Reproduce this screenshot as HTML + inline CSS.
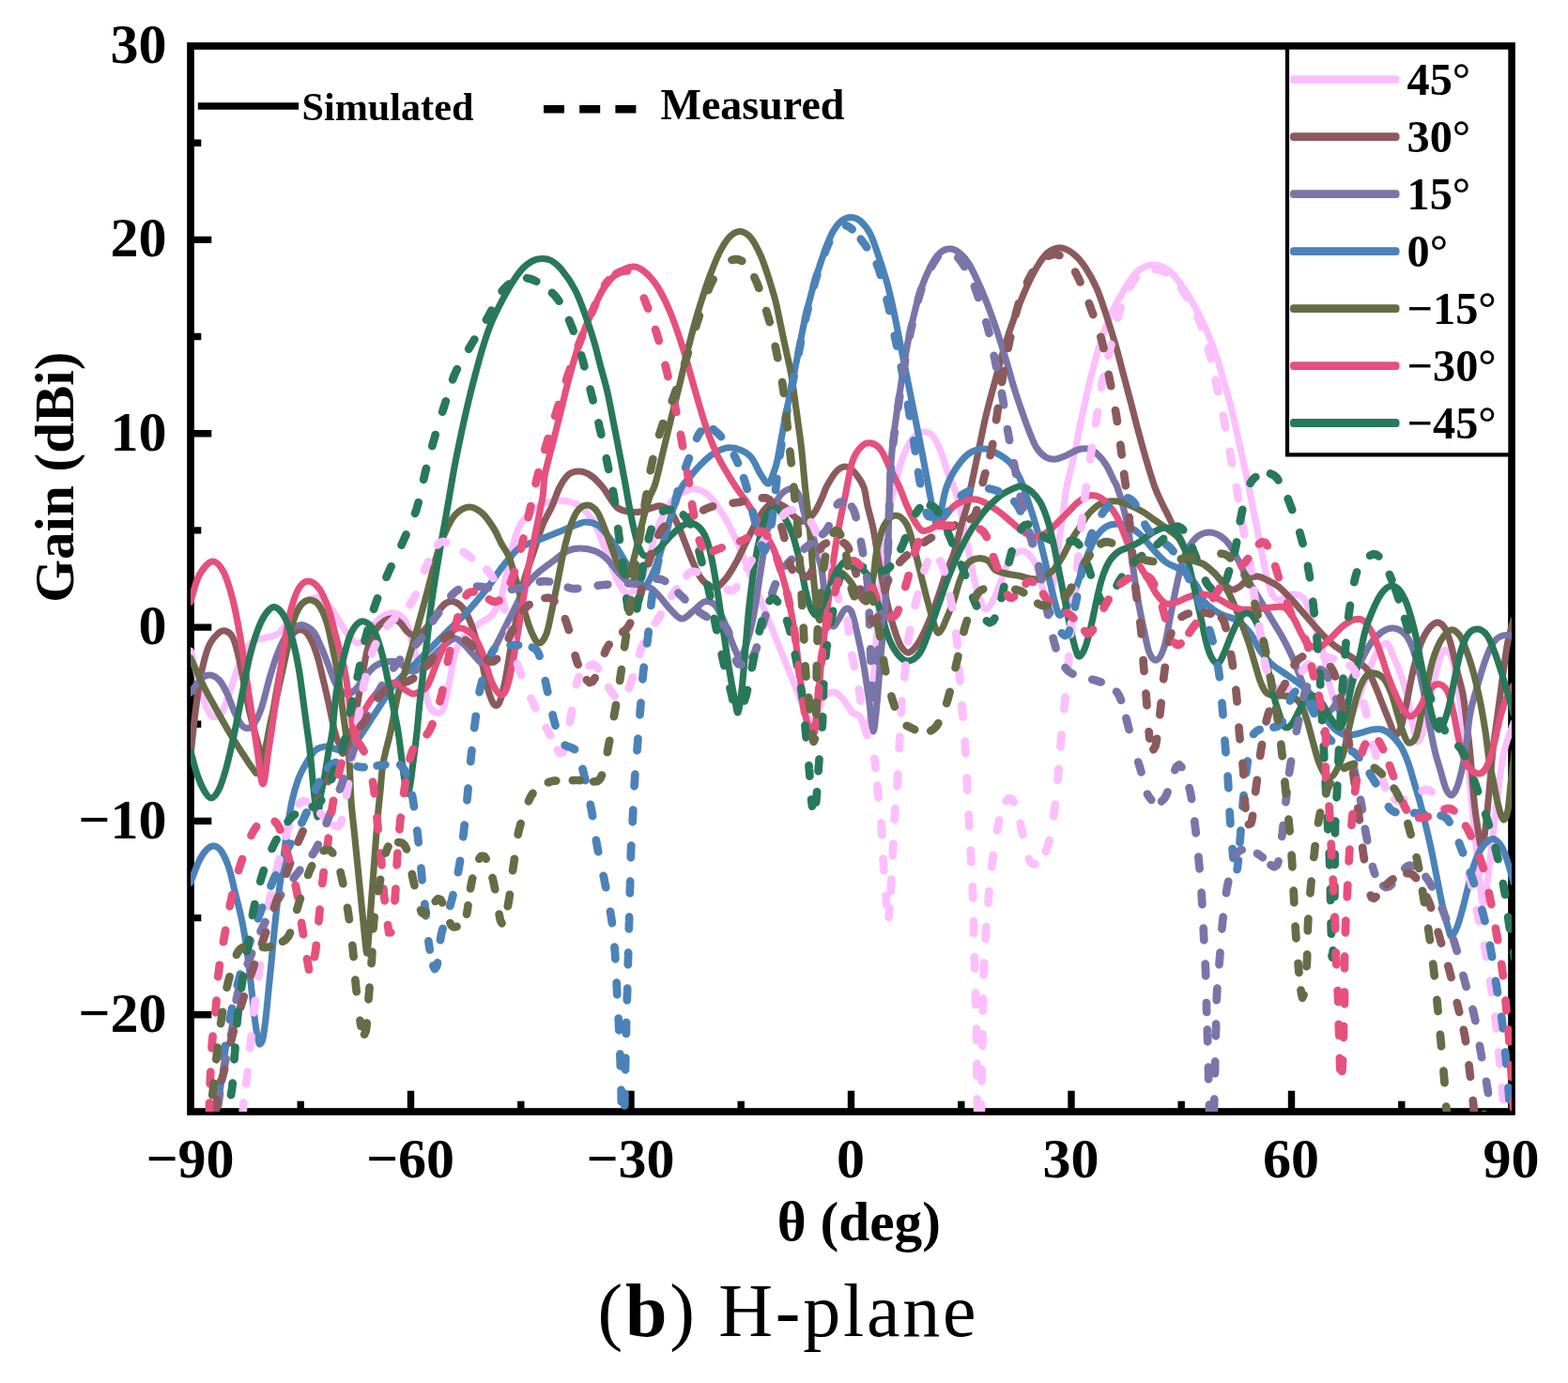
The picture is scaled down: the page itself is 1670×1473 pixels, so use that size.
<!DOCTYPE html>
<html lang="en"><head><meta charset="utf-8"><title>(b) H-plane</title>
<style>
html,body{margin:0;padding:0;background:#fff;}
body{width:1670px;height:1473px;overflow:hidden;}
svg{display:block;}
text{font-family:"Liberation Serif","Times New Roman",Times,serif;fill:#000;}
.b{font-weight:bold;}
.sim{fill:none;stroke-width:7.1;stroke-linecap:round;stroke-linejoin:round;}
.mea{fill:none;stroke-width:8.7;stroke-linecap:round;stroke-linejoin:round;}
</style></head><body>
<svg xmlns="http://www.w3.org/2000/svg" width="1670" height="1473" viewBox="0 0 1670 1473">
<rect x="0" y="0" width="1670" height="1473" fill="#fff"/>
<defs><clipPath id="pc"><rect x="203.0" y="49.0" width="1407.0" height="1135.0"/></clipPath></defs>
<rect x="203.0" y="49.0" width="1407.0" height="1135.0" fill="none" stroke="#000" stroke-width="7.7"/>
<path d="M206.3 1080.8 h19.0M206.3 977.6 h8.0M206.3 874.5 h19.0M206.3 771.3 h8.0M206.3 668.1 h19.0M206.3 564.9 h8.0M206.3 461.7 h19.0M206.3 358.5 h8.0M206.3 255.4 h19.0M206.3 152.2 h8.0M320.2 1180.7 v-8.0M437.5 1180.7 v-19.0M554.8 1180.7 v-8.0M672.0 1180.7 v-19.0M789.2 1180.7 v-8.0M906.5 1180.7 v-19.0M1023.8 1180.7 v-8.0M1141.0 1180.7 v-19.0M1258.2 1180.7 v-8.0M1375.5 1180.7 v-19.0M1492.8 1180.7 v-8.0" stroke="#000" stroke-width="7.4" fill="none"/>
<g clip-path="url(#pc)">
<path class="sim" stroke="#FCBFFD" d="M203.0 693.0C204.2 697.3 207.5 709.7 210.0 719.0C212.5 728.3 215.3 741.7 218.0 749.0C220.7 756.3 223.0 761.3 226.0 763.0C229.0 764.7 233.0 763.0 236.0 759.0C239.0 755.0 241.3 746.3 244.0 739.0C246.7 731.7 249.3 722.3 252.0 715.0C254.7 707.7 257.0 700.3 260.0 695.0C263.0 689.7 266.0 685.7 270.0 683.0C274.0 680.3 279.7 680.3 284.0 679.0C288.3 677.7 292.3 677.7 296.0 675.0C299.7 672.3 302.7 667.3 306.0 663.0C309.3 658.7 312.3 653.0 316.0 649.0C319.7 645.0 324.0 641.0 328.0 639.0C332.0 637.0 336.0 635.7 340.0 637.0C344.0 638.3 348.3 642.7 352.0 647.0C355.7 651.3 359.0 658.3 362.0 663.0C365.0 667.7 367.0 671.3 370.0 675.0C373.0 678.7 376.7 684.3 380.0 685.0C383.3 685.7 386.7 682.7 390.0 679.0C393.3 675.3 396.7 667.0 400.0 663.0C403.3 659.0 406.7 656.7 410.0 655.0C413.3 653.3 416.7 652.3 420.0 653.0C423.3 653.7 427.3 656.0 430.0 659.0C432.7 662.0 434.3 666.0 436.0 671.0C437.7 676.0 438.0 682.1 440.0 689.0C442.3 697.0 447.3 709.0 450.0 719.0C452.7 729.0 453.7 742.3 456.0 749.0C458.3 755.7 461.3 758.0 464.0 759.0C466.7 760.0 469.7 760.0 472.0 755.0C474.3 750.0 476.0 738.3 478.0 729.0C480.0 719.7 482.0 706.7 484.0 699.0C486.0 691.3 487.3 687.3 490.0 683.0C492.7 678.7 496.3 676.3 500.0 673.0C503.7 669.7 508.0 666.0 512.0 663.0C516.0 660.0 520.3 659.7 524.0 655.0C527.7 650.3 530.7 645.8 534.0 635.0C537.3 624.2 540.7 602.7 544.0 590.0C547.3 577.3 549.0 567.5 554.0 559.0C559.0 550.5 567.3 543.3 574.0 539.0C580.7 534.7 587.3 533.3 594.0 533.0C600.7 532.7 609.0 535.0 614.0 537.0C619.0 539.0 620.7 541.3 624.0 545.0C627.3 548.7 631.0 553.3 634.0 559.0C637.0 564.7 639.3 572.3 642.0 579.0C644.7 585.7 647.3 592.3 650.0 599.0C652.7 605.7 655.3 613.7 658.0 619.0C660.7 624.3 663.0 629.5 666.0 631.0C669.0 632.5 673.0 630.7 676.0 628.0C679.0 625.3 681.7 619.8 684.0 615.0C686.3 610.2 687.7 606.7 690.0 599.0C692.3 591.3 695.3 577.3 698.0 569.0C700.7 560.7 702.7 555.3 706.0 549.0C709.3 542.7 714.0 535.3 718.0 531.0C722.0 526.7 726.0 524.7 730.0 523.0C734.0 521.3 738.0 520.3 742.0 521.0C746.0 521.7 750.3 524.0 754.0 527.0C757.7 530.0 760.7 534.3 764.0 539.0C767.3 543.7 770.7 549.0 774.0 555.0C777.3 561.0 780.7 567.7 784.0 575.0C787.3 582.3 791.0 591.7 794.0 599.0C797.0 606.3 799.3 612.3 802.0 619.0C804.7 625.7 807.3 632.3 810.0 639.0C812.7 645.7 815.3 652.3 818.0 659.0C820.7 665.7 823.3 672.3 826.0 679.0C828.7 685.7 831.3 692.3 834.0 699.0C836.7 705.7 839.3 712.3 842.0 719.0C844.7 725.7 847.3 732.3 850.0 739.0C852.7 745.7 855.0 753.8 858.0 759.0C861.0 764.2 865.0 772.3 868.0 770.0C871.0 767.7 872.7 750.5 876.0 745.0C879.3 739.5 884.3 737.0 888.0 737.0C891.7 737.0 894.7 741.3 898.0 745.0C901.3 748.7 905.0 756.0 908.0 759.0C911.0 762.0 913.7 760.0 916.0 763.0C918.3 766.0 920.2 777.5 922.0 777.0C923.8 776.5 925.3 773.0 927.0 760.0C928.7 747.0 930.2 722.3 932.0 699.0C933.8 675.7 935.7 644.8 938.0 620.0C940.3 595.2 943.0 569.2 946.0 550.0C949.0 530.8 953.0 516.5 956.0 505.0C959.0 493.5 961.0 487.7 964.0 481.0C967.0 474.3 970.7 468.5 974.0 465.0C977.3 461.5 980.7 460.0 984.0 460.0C987.3 460.0 991.0 461.5 994.0 465.0C997.0 468.5 999.3 474.3 1002.0 481.0C1004.7 487.7 1007.7 498.7 1010.0 505.0C1012.3 511.3 1014.0 513.3 1016.0 519.0C1018.0 524.7 1020.0 530.7 1022.0 539.0C1024.0 547.3 1026.0 559.0 1028.0 569.0C1030.0 579.0 1032.3 590.7 1034.0 599.0C1035.7 607.3 1036.3 612.3 1038.0 619.0C1039.7 625.7 1042.0 634.0 1044.0 639.0C1046.0 644.0 1047.7 649.0 1050.0 649.0C1052.3 649.0 1055.3 644.0 1058.0 639.0C1060.7 634.0 1063.3 625.7 1066.0 619.0C1068.7 612.3 1071.3 604.0 1074.0 599.0C1076.7 594.0 1079.3 591.0 1082.0 589.0C1084.7 587.0 1087.3 586.3 1090.0 587.0C1092.7 587.7 1095.7 590.3 1098.0 593.0C1100.3 595.7 1102.0 597.7 1104.0 603.0C1106.0 608.3 1108.0 618.8 1110.0 625.0C1112.0 631.2 1114.0 640.8 1116.0 640.0C1118.0 639.2 1120.0 630.8 1122.0 620.0C1124.0 609.2 1126.3 586.8 1128.0 575.0C1129.7 563.2 1130.7 558.3 1132.0 549.0C1133.3 539.7 1134.0 529.7 1136.0 519.0C1138.0 508.3 1141.3 497.3 1144.0 485.0C1146.7 472.7 1149.0 459.0 1152.0 445.0C1155.0 431.0 1158.7 414.3 1162.0 401.0C1165.3 387.7 1168.3 376.3 1172.0 365.0C1175.7 353.7 1180.0 342.0 1184.0 333.0C1188.0 324.0 1193.0 316.3 1196.0 311.0C1199.0 305.7 1199.0 305.0 1202.0 301.0C1205.0 297.0 1209.3 290.2 1214.0 287.0C1218.7 283.8 1224.7 281.7 1230.0 282.0C1235.3 282.3 1240.7 284.5 1246.0 289.0C1251.3 293.5 1256.7 301.0 1262.0 309.0C1267.3 317.0 1273.0 327.0 1278.0 337.0C1283.0 347.0 1288.0 358.3 1292.0 369.0C1296.0 379.7 1298.7 389.7 1302.0 401.0C1305.3 412.3 1309.0 425.0 1312.0 437.0C1315.0 449.0 1317.3 461.0 1320.0 473.0C1322.7 485.0 1325.3 496.3 1328.0 509.0C1330.7 521.7 1333.7 537.3 1336.0 549.0C1338.3 560.7 1340.0 569.0 1342.0 579.0C1344.0 589.0 1346.0 600.3 1348.0 609.0C1350.0 617.7 1351.7 626.0 1354.0 631.0C1356.3 636.0 1358.3 638.7 1362.0 639.0C1365.7 639.3 1371.7 633.3 1376.0 633.0C1380.3 632.7 1384.7 633.3 1388.0 637.0C1391.3 640.7 1393.3 648.0 1396.0 655.0C1398.7 662.0 1401.7 671.7 1404.0 679.0C1406.3 686.3 1408.0 690.7 1410.0 699.0C1412.0 707.3 1414.0 720.7 1416.0 729.0C1418.0 737.3 1419.7 743.0 1422.0 749.0C1424.3 755.0 1427.0 763.2 1430.0 765.0C1433.0 766.8 1436.3 765.8 1440.0 760.0C1443.7 754.2 1448.0 740.0 1452.0 730.0C1456.0 720.0 1460.0 707.5 1464.0 700.0C1468.0 692.5 1472.7 685.2 1476.0 685.0C1479.3 684.8 1481.3 693.3 1484.0 699.0C1486.7 704.7 1489.7 712.3 1492.0 719.0C1494.3 725.7 1496.0 730.7 1498.0 739.0C1500.0 747.3 1502.0 760.5 1504.0 769.0C1506.0 777.5 1507.7 789.8 1510.0 790.0C1512.3 790.2 1515.3 780.0 1518.0 770.0C1520.7 760.0 1523.0 742.5 1526.0 730.0C1529.0 717.5 1532.7 700.0 1536.0 695.0C1539.3 690.0 1543.0 692.5 1546.0 700.0C1549.0 707.5 1551.3 723.3 1554.0 740.0C1556.7 756.7 1559.7 780.0 1562.0 800.0C1564.3 820.0 1566.0 840.0 1568.0 860.0C1570.0 880.0 1572.2 903.0 1574.0 920.0C1575.8 937.0 1577.3 958.7 1579.0 962.0C1580.7 965.3 1582.2 952.0 1584.0 940.0C1585.8 928.0 1588.0 906.7 1590.0 890.0C1592.0 873.3 1594.0 855.0 1596.0 840.0C1598.0 825.0 1599.3 811.7 1602.0 800.0C1604.7 788.3 1610.3 775.0 1612.0 770.0"/>
<path class="sim" stroke="#8B5A5C" d="M203.0 805.0C203.8 797.3 206.2 773.3 208.0 759.0C209.8 744.7 211.7 730.7 214.0 719.0C216.3 707.3 219.0 696.3 222.0 689.0C225.0 681.7 229.0 677.8 232.0 675.0C235.0 672.2 237.3 671.3 240.0 672.0C242.7 672.7 245.7 674.5 248.0 679.0C250.3 683.5 252.0 690.7 254.0 699.0C256.0 707.3 258.0 719.0 260.0 729.0C262.0 739.0 263.7 749.0 266.0 759.0C268.3 769.0 271.7 781.2 274.0 789.0C276.3 796.8 278.0 806.0 280.0 806.0C282.0 806.0 283.7 800.2 286.0 789.0C288.3 777.8 291.3 754.0 294.0 739.0C296.7 724.0 299.0 709.7 302.0 699.0C305.0 688.3 308.7 679.7 312.0 675.0C315.3 670.3 319.0 670.3 322.0 671.0C325.0 671.7 327.3 674.3 330.0 679.0C332.7 683.7 335.7 691.7 338.0 699.0C340.3 706.3 342.0 714.7 344.0 723.0C346.0 731.3 348.0 740.0 350.0 749.0C352.0 758.0 354.2 769.8 356.0 777.0C357.8 784.2 359.3 788.7 361.0 792.0C362.7 795.3 364.2 798.0 366.0 797.0C367.8 796.0 369.8 792.3 372.0 786.0C374.2 779.7 376.7 770.2 379.0 759.0C381.3 747.8 383.8 730.7 386.0 719.0C388.2 707.3 389.7 697.0 392.0 689.0C394.3 681.0 397.0 675.7 400.0 671.0C403.0 666.3 407.0 663.0 410.0 661.0C413.0 659.0 415.3 658.7 418.0 659.0C420.7 659.3 423.3 660.7 426.0 663.0C428.7 665.3 431.3 670.7 434.0 673.0C436.7 675.3 439.0 677.3 442.0 677.0C445.0 676.7 448.3 674.7 452.0 671.0C455.7 667.3 460.3 659.7 464.0 655.0C467.7 650.3 470.7 645.3 474.0 643.0C477.3 640.7 480.7 640.0 484.0 641.0C487.3 642.0 491.0 645.0 494.0 649.0C497.0 653.0 499.7 659.0 502.0 665.0C504.3 671.0 506.0 677.7 508.0 685.0C510.0 692.3 512.0 700.7 514.0 709.0C516.0 717.3 518.0 728.2 520.0 735.0C522.0 741.8 524.0 747.8 526.0 750.0C528.0 752.2 530.0 752.2 532.0 748.0C534.0 743.8 536.0 734.7 538.0 725.0C540.0 715.3 542.0 701.0 544.0 690.0C546.0 679.0 547.7 670.8 550.0 659.0C552.3 647.2 555.0 630.7 558.0 619.0C561.0 607.3 564.7 599.0 568.0 589.0C571.3 579.0 574.7 567.3 578.0 559.0C581.3 550.7 585.0 545.7 588.0 539.0C591.0 532.3 593.0 524.7 596.0 519.0C599.0 513.3 602.3 507.8 606.0 505.0C609.7 502.2 614.0 501.7 618.0 502.0C622.0 502.3 626.0 504.2 630.0 507.0C634.0 509.8 638.7 515.0 642.0 519.0C645.3 523.0 647.3 527.3 650.0 531.0C652.7 534.7 654.7 538.7 658.0 541.0C661.3 543.3 666.0 544.3 670.0 545.0C674.0 545.7 678.0 545.7 682.0 545.0C686.0 544.3 690.3 542.0 694.0 541.0C697.7 540.0 700.7 538.3 704.0 539.0C707.3 539.7 711.0 541.7 714.0 545.0C717.0 548.3 719.3 553.3 722.0 559.0C724.7 564.7 727.3 572.3 730.0 579.0C732.7 585.7 735.3 593.0 738.0 599.0C740.7 605.0 743.3 611.0 746.0 615.0C748.7 619.0 751.0 621.3 754.0 623.0C757.0 624.7 760.7 626.3 764.0 625.0C767.3 623.7 770.7 619.3 774.0 615.0C777.3 610.7 780.7 605.0 784.0 599.0C787.3 593.0 790.7 585.7 794.0 579.0C797.3 572.3 800.7 565.0 804.0 559.0C807.3 553.0 810.7 547.0 814.0 543.0C817.3 539.0 820.3 535.5 824.0 535.0C827.7 534.5 832.0 537.2 836.0 540.0C840.0 542.8 844.3 549.5 848.0 552.0C851.7 554.5 854.7 556.2 858.0 555.0C861.3 553.8 865.0 549.3 868.0 545.0C871.0 540.7 874.0 533.3 876.0 529.0C878.0 524.7 878.0 522.7 880.0 519.0C882.3 514.7 886.7 506.7 890.0 503.0C893.3 499.3 896.7 497.0 900.0 497.0C903.3 497.0 906.7 499.3 910.0 503.0C913.3 506.7 917.7 513.0 920.0 519.0C922.0 524.1 922.3 531.7 924.0 539.0C925.7 546.3 928.0 553.0 930.0 563.0C932.0 573.0 934.0 588.0 936.0 599.0C938.0 610.0 940.0 619.7 942.0 629.0C944.0 638.3 946.0 647.3 948.0 655.0C950.0 662.7 952.0 669.3 954.0 675.0C956.0 680.7 957.7 685.7 960.0 689.0C962.3 692.3 965.0 695.7 968.0 695.0C971.0 694.3 974.7 690.0 978.0 685.0C981.3 680.0 984.7 672.7 988.0 665.0C991.3 657.3 994.7 648.3 998.0 639.0C1001.3 629.7 1005.0 617.3 1008.0 609.0C1011.0 600.7 1013.3 597.3 1016.0 589.0C1018.7 580.7 1021.7 567.3 1024.0 559.0C1026.3 550.7 1028.3 545.7 1030.0 539.0C1031.7 532.3 1032.0 528.7 1034.0 519.0C1036.0 509.3 1039.3 493.7 1042.0 481.0C1044.7 468.3 1047.0 455.7 1050.0 443.0C1053.0 430.3 1056.7 417.3 1060.0 405.0C1063.3 392.7 1066.7 380.0 1070.0 369.0C1073.3 358.0 1076.3 349.0 1080.0 339.0C1083.7 329.0 1088.0 318.0 1092.0 309.0C1096.0 300.0 1100.0 291.7 1104.0 285.0C1108.0 278.3 1111.7 272.5 1116.0 269.0C1120.3 265.5 1125.3 263.7 1130.0 264.0C1134.7 264.3 1139.7 267.5 1144.0 271.0C1148.3 274.5 1152.0 279.0 1156.0 285.0C1160.0 291.0 1164.3 298.7 1168.0 307.0C1171.7 315.3 1174.7 325.0 1178.0 335.0C1181.3 345.0 1185.0 356.7 1188.0 367.0C1191.0 377.3 1193.3 387.0 1196.0 397.0C1198.7 407.0 1201.3 416.8 1204.0 427.0C1206.7 437.2 1209.3 448.0 1212.0 458.0C1214.7 468.0 1217.0 476.8 1220.0 487.0C1223.0 497.2 1227.0 510.7 1230.0 519.0C1233.0 527.3 1235.3 531.3 1238.0 537.0C1240.7 542.7 1243.0 546.8 1246.0 553.0C1249.0 559.2 1252.3 567.2 1256.0 574.0C1259.7 580.8 1263.7 589.5 1268.0 594.0C1272.3 598.5 1277.7 598.2 1282.0 601.0C1286.3 603.8 1290.3 607.5 1294.0 611.0C1297.7 614.5 1301.0 619.2 1304.0 622.0C1307.0 624.8 1309.3 627.5 1312.0 628.0C1314.7 628.5 1317.0 627.0 1320.0 625.0C1323.0 623.0 1326.7 617.8 1330.0 616.0C1333.3 614.2 1336.7 613.7 1340.0 614.0C1343.3 614.3 1346.3 616.2 1350.0 618.0C1353.7 619.8 1357.7 621.5 1362.0 625.0C1366.3 628.5 1371.3 634.0 1376.0 639.0C1380.7 644.0 1385.3 649.7 1390.0 655.0C1394.7 660.3 1399.3 666.0 1404.0 671.0C1408.7 676.0 1413.3 681.0 1418.0 685.0C1422.7 689.0 1427.7 692.0 1432.0 695.0C1436.3 698.0 1440.0 700.0 1444.0 703.0C1448.0 706.0 1452.7 708.7 1456.0 713.0C1459.3 717.3 1461.3 723.0 1464.0 729.0C1466.7 735.0 1469.3 742.3 1472.0 749.0C1474.7 755.7 1477.7 763.5 1480.0 769.0C1482.3 774.5 1484.0 781.0 1486.0 782.0C1488.0 783.0 1490.0 780.5 1492.0 775.0C1494.0 769.5 1496.0 758.3 1498.0 749.0C1500.0 739.7 1502.0 728.0 1504.0 719.0C1506.0 710.0 1508.0 701.7 1510.0 695.0C1512.0 688.3 1513.7 683.7 1516.0 679.0C1518.3 674.3 1521.3 669.7 1524.0 667.0C1526.7 664.3 1529.3 662.3 1532.0 663.0C1534.7 663.7 1537.7 666.7 1540.0 671.0C1542.3 675.3 1544.0 681.7 1546.0 689.0C1548.0 696.3 1550.0 706.7 1552.0 715.0C1554.0 723.3 1556.3 730.0 1558.0 739.0C1559.7 748.0 1560.7 758.0 1562.0 769.0C1563.3 780.0 1564.7 791.0 1566.0 805.0C1567.3 819.0 1568.7 840.0 1570.0 853.0C1571.3 866.0 1572.7 874.7 1574.0 883.0C1575.3 891.3 1576.7 903.0 1578.0 903.0C1579.3 903.0 1580.7 893.0 1582.0 883.0C1583.3 873.0 1584.7 857.0 1586.0 843.0C1587.3 829.0 1588.7 811.3 1590.0 799.0C1591.3 786.7 1592.7 779.0 1594.0 769.0C1595.3 759.0 1596.7 749.0 1598.0 739.0C1599.3 729.0 1600.7 718.3 1602.0 709.0C1603.3 699.7 1604.3 691.2 1606.0 683.0C1607.7 674.8 1611.0 663.8 1612.0 660.0"/>
<path class="sim" stroke="#7A75A8" d="M203.0 738.0C204.8 735.5 210.5 726.2 214.0 723.0C217.5 719.8 220.7 718.7 224.0 719.0C227.3 719.3 231.0 721.7 234.0 725.0C237.0 728.3 239.3 733.3 242.0 739.0C244.7 744.7 247.3 753.3 250.0 759.0C252.7 764.7 255.3 770.3 258.0 773.0C260.7 775.7 263.3 776.3 266.0 775.0C268.7 773.7 271.7 769.3 274.0 765.0C276.3 760.7 277.7 756.7 280.0 749.0C282.3 741.3 285.3 728.0 288.0 719.0C290.7 710.0 293.0 702.3 296.0 695.0C299.0 687.7 302.7 679.7 306.0 675.0C309.3 670.3 313.0 668.5 316.0 667.0C319.0 665.5 321.0 665.0 324.0 666.0C327.0 667.0 331.0 669.2 334.0 673.0C337.0 676.8 339.3 683.0 342.0 689.0C344.7 695.0 347.3 702.3 350.0 709.0C352.7 715.7 355.0 724.0 358.0 729.0C361.0 734.0 364.7 738.0 368.0 739.0C371.3 740.0 374.3 738.3 378.0 735.0C381.7 731.7 386.3 723.3 390.0 719.0C393.7 714.7 396.5 711.3 400.0 709.0C403.5 706.7 407.3 705.7 411.0 705.0C414.7 704.3 418.7 704.2 422.0 705.0C425.3 705.8 428.0 708.3 431.0 710.0C434.0 711.7 436.5 715.3 440.0 715.0C443.5 714.7 447.8 711.3 452.0 708.0C456.2 704.7 461.0 698.8 465.0 695.0C469.0 691.2 472.7 687.5 476.0 685.0C479.3 682.5 482.0 679.8 485.0 680.0C488.0 680.2 490.8 683.2 494.0 686.0C497.2 688.8 500.8 693.7 504.0 697.0C507.2 700.3 510.2 705.5 513.0 706.0C515.8 706.5 518.2 703.7 521.0 700.0C523.8 696.3 526.7 690.3 530.0 684.0C533.3 677.7 537.3 669.3 541.0 662.0C544.7 654.7 549.3 645.7 552.0 640.0C554.5 634.7 555.0 631.5 557.0 628.0C559.0 624.5 561.2 622.2 564.0 619.0C566.8 615.8 569.7 612.7 574.0 609.0C578.3 605.3 585.0 600.7 590.0 597.0C595.0 593.3 599.3 589.2 604.0 587.0C608.7 584.8 613.0 584.0 618.0 584.0C623.0 584.0 629.3 585.2 634.0 587.0C638.7 588.8 642.0 591.3 646.0 595.0C650.0 598.7 654.0 604.7 658.0 609.0C662.0 613.3 666.0 618.7 670.0 621.0C674.0 623.3 678.0 622.0 682.0 623.0C686.0 624.0 690.3 624.7 694.0 627.0C697.7 629.3 700.7 633.3 704.0 637.0C707.3 640.7 710.3 645.3 714.0 649.0C717.7 652.7 722.0 658.7 726.0 659.0C730.0 659.3 734.0 654.0 738.0 651.0C742.0 648.0 746.3 642.3 750.0 641.0C753.7 639.7 757.0 640.7 760.0 643.0C763.0 645.3 765.7 650.7 768.0 655.0C770.3 659.3 771.7 663.2 774.0 669.0C776.3 674.8 779.7 684.8 782.0 690.0C784.3 695.2 786.0 700.2 788.0 700.0C790.0 699.8 791.7 695.8 794.0 689.0C796.3 682.2 799.3 672.3 802.0 659.0C804.7 645.7 807.7 623.5 810.0 609.0C812.3 594.5 814.0 582.5 816.0 572.0C818.0 561.5 819.7 553.2 822.0 546.0C824.3 538.8 827.0 533.2 830.0 529.0C833.0 524.8 837.0 522.0 840.0 521.0C843.0 520.0 845.8 521.0 848.0 523.0C850.2 525.0 851.3 528.2 853.0 533.0C854.7 537.8 855.8 545.5 858.0 552.0C860.2 558.5 863.8 565.5 866.0 572.0C868.2 578.5 869.5 585.3 871.0 591.0C872.5 596.7 873.8 599.5 875.0 606.0C876.2 612.5 876.8 621.8 878.0 630.0C879.2 638.2 880.5 648.8 882.0 655.0C883.5 661.2 885.2 666.2 887.0 667.0C888.8 667.8 890.8 663.0 893.0 660.0C895.2 657.0 897.7 650.3 900.0 649.0C902.3 647.7 904.7 647.0 907.0 652.0C909.3 657.0 911.8 669.5 914.0 679.0C916.2 688.5 918.0 697.3 920.0 709.0C922.0 720.7 924.3 737.3 926.0 749.0C927.7 760.7 928.7 779.0 930.0 779.0C931.3 779.0 932.7 762.3 934.0 749.0C935.3 735.7 936.7 714.0 938.0 699.0C939.3 684.0 941.0 672.3 942.0 659.0C943.0 645.7 943.3 632.3 944.0 619.0C944.7 605.7 945.4 595.7 946.0 579.0C946.6 562.3 946.8 536.3 947.5 519.0C948.2 501.7 949.1 489.0 950.5 475.0C951.9 461.0 953.9 448.3 955.8 435.0C957.7 421.7 960.0 406.7 961.8 395.0C963.6 383.3 964.9 374.7 966.8 365.0C968.7 355.3 970.7 346.3 973.0 337.0C975.3 327.7 977.6 317.8 980.6 309.0C983.6 300.2 987.6 290.6 991.0 284.0C994.4 277.4 997.6 272.7 1001.0 269.5C1004.4 266.3 1008.1 265.0 1011.6 265.0C1015.1 265.0 1018.9 266.9 1022.2 269.5C1025.5 272.1 1028.4 275.4 1031.6 280.5C1034.8 285.6 1038.1 292.6 1041.5 300.0C1044.9 307.4 1048.6 316.2 1052.0 325.0C1055.4 333.8 1058.7 343.0 1062.0 353.0C1065.3 363.0 1069.0 375.0 1072.0 385.0C1075.0 395.0 1077.3 404.3 1080.0 413.0C1082.7 421.7 1085.3 429.3 1088.0 437.0C1090.7 444.7 1093.3 452.3 1096.0 459.0C1098.7 465.7 1101.0 472.3 1104.0 477.0C1107.0 481.7 1110.7 485.0 1114.0 487.0C1117.3 489.0 1120.3 489.3 1124.0 489.0C1127.7 488.7 1132.0 486.7 1136.0 485.0C1140.0 483.3 1144.3 480.2 1148.0 479.0C1151.7 477.8 1154.7 477.3 1158.0 478.0C1161.3 478.7 1164.7 480.2 1168.0 483.0C1171.3 485.8 1175.0 490.3 1178.0 495.0C1181.0 499.7 1184.0 507.0 1186.0 511.0C1188.0 515.0 1188.3 514.3 1190.0 519.0C1191.7 523.7 1194.0 531.3 1196.0 539.0C1198.0 546.7 1200.3 555.0 1202.0 565.0C1203.7 575.0 1204.3 586.7 1206.0 599.0C1207.7 611.3 1210.0 627.3 1212.0 639.0C1214.0 650.7 1216.0 659.7 1218.0 669.0C1220.0 678.3 1221.7 689.3 1224.0 695.0C1226.3 700.7 1229.3 704.0 1232.0 703.0C1234.7 702.0 1237.7 696.3 1240.0 689.0C1242.3 681.7 1244.0 669.0 1246.0 659.0C1248.0 649.0 1250.0 638.3 1252.0 629.0C1254.0 619.7 1255.7 610.7 1258.0 603.0C1260.3 595.3 1263.0 588.3 1266.0 583.0C1269.0 577.7 1272.3 573.7 1276.0 571.0C1279.7 568.3 1284.0 567.0 1288.0 567.0C1292.0 567.0 1296.3 568.7 1300.0 571.0C1303.7 573.3 1306.7 576.3 1310.0 581.0C1313.3 585.7 1316.7 592.7 1320.0 599.0C1323.3 605.3 1326.3 612.3 1330.0 619.0C1333.7 625.7 1338.0 632.3 1342.0 639.0C1346.0 645.7 1350.0 652.3 1354.0 659.0C1358.0 665.7 1362.3 672.3 1366.0 679.0C1369.7 685.7 1373.0 692.3 1376.0 699.0C1379.0 705.7 1381.3 712.3 1384.0 719.0C1386.7 725.7 1389.0 733.0 1392.0 739.0C1395.0 745.0 1398.3 751.7 1402.0 755.0C1405.7 758.3 1410.3 760.2 1414.0 759.0C1417.7 757.8 1420.3 753.0 1424.0 748.0C1427.7 743.0 1432.0 735.8 1436.0 729.0C1440.0 722.2 1444.0 714.3 1448.0 707.0C1452.0 699.7 1456.0 690.7 1460.0 685.0C1464.0 679.3 1468.0 675.7 1472.0 673.0C1476.0 670.3 1480.0 668.7 1484.0 669.0C1488.0 669.3 1492.7 671.7 1496.0 675.0C1499.3 678.3 1501.7 683.3 1504.0 689.0C1506.3 694.7 1508.0 701.3 1510.0 709.0C1512.0 716.7 1514.0 725.0 1516.0 735.0C1518.0 745.0 1520.0 758.3 1522.0 769.0C1524.0 779.7 1526.0 790.5 1528.0 799.0C1530.0 807.5 1532.0 813.2 1534.0 820.0C1536.0 826.8 1538.0 835.5 1540.0 840.0C1542.0 844.5 1544.0 847.3 1546.0 847.0C1548.0 846.7 1550.0 843.3 1552.0 838.0C1554.0 832.7 1556.3 823.0 1558.0 815.0C1559.7 807.0 1560.7 799.3 1562.0 790.0C1563.3 780.7 1564.0 769.2 1566.0 759.0C1568.0 748.8 1571.3 738.3 1574.0 729.0C1576.7 719.7 1579.3 710.3 1582.0 703.0C1584.7 695.7 1587.0 689.3 1590.0 685.0C1593.0 680.7 1596.3 678.3 1600.0 677.0C1603.7 675.7 1610.0 677.0 1612.0 677.0"/>
<path class="sim" stroke="#4B82B8" d="M203.0 940.0C204.5 936.2 209.2 922.8 212.0 917.0C214.8 911.2 217.3 907.7 220.0 905.0C222.7 902.3 225.3 900.7 228.0 901.0C230.7 901.3 233.3 903.0 236.0 907.0C238.7 911.0 241.7 918.0 244.0 925.0C246.3 932.0 248.0 941.0 250.0 949.0C252.0 957.0 254.3 965.7 256.0 973.0C257.7 980.3 258.7 985.2 260.0 993.0C261.3 1000.8 262.7 1009.7 264.0 1020.0C265.3 1030.3 266.7 1043.3 268.0 1055.0C269.3 1066.7 270.8 1081.2 272.0 1090.0C273.2 1098.8 274.2 1104.3 275.0 1108.0C275.8 1111.7 276.2 1112.3 277.0 1112.0C277.8 1111.7 279.0 1110.5 280.0 1106.0C281.0 1101.5 282.0 1093.5 283.0 1085.0C284.0 1076.5 285.0 1065.0 286.0 1055.0C287.0 1045.0 288.0 1035.3 289.0 1025.0C290.0 1014.7 291.0 1003.0 292.0 993.0C293.0 983.0 294.0 973.3 295.0 965.0C296.0 956.7 296.8 951.7 298.0 943.0C299.2 934.3 300.7 923.0 302.0 913.0C303.3 903.0 304.5 893.0 306.0 883.0C307.5 873.0 309.0 862.0 311.0 853.0C313.0 844.0 315.5 835.7 318.0 829.0C320.5 822.3 323.0 818.0 326.0 813.0C329.0 808.0 332.3 802.0 336.0 799.0C339.7 796.0 344.3 795.2 348.0 795.0C351.7 794.8 354.7 797.2 358.0 798.0C361.3 798.8 364.3 801.5 368.0 800.0C371.7 798.5 374.7 795.8 380.0 789.0C385.3 782.2 393.3 769.0 400.0 759.0C406.7 749.0 413.3 737.3 420.0 729.0C426.7 720.7 433.3 715.7 440.0 709.0C446.7 702.3 453.3 695.7 460.0 689.0C466.7 682.3 473.3 675.7 480.0 669.0C486.7 662.3 493.3 656.3 500.0 649.0C506.7 641.7 514.3 632.3 520.0 625.0C525.7 617.7 530.0 610.3 534.0 605.0C538.0 599.7 540.7 596.7 544.0 593.0C547.3 589.3 549.0 586.0 554.0 583.0C559.0 580.0 567.3 577.7 574.0 575.0C580.7 572.3 587.3 569.7 594.0 567.0C600.7 564.3 609.0 560.8 614.0 559.0C619.0 557.2 620.3 556.0 624.0 556.0C627.7 556.0 632.3 556.8 636.0 559.0C639.7 561.2 642.3 564.7 646.0 569.0C649.7 573.3 654.0 579.0 658.0 585.0C662.0 591.0 666.3 599.3 670.0 605.0C673.7 610.7 677.0 616.0 680.0 619.0C683.0 622.0 685.3 624.7 688.0 623.0C690.7 621.3 693.7 614.0 696.0 609.0C698.3 604.0 699.7 600.3 702.0 593.0C704.3 585.7 707.3 574.0 710.0 565.0C712.7 556.0 715.3 546.7 718.0 539.0C720.7 531.3 723.3 524.0 726.0 519.0C728.7 514.0 730.7 513.0 734.0 509.0C737.3 505.0 741.7 499.3 746.0 495.0C750.3 490.7 755.3 486.0 760.0 483.0C764.7 480.0 769.3 477.7 774.0 477.0C778.7 476.3 783.7 477.3 788.0 479.0C792.3 480.7 796.3 482.7 800.0 487.0C803.7 491.3 807.0 500.3 810.0 505.0C813.0 509.7 815.8 514.8 818.0 515.0C820.2 515.2 821.3 510.3 823.0 506.0C824.7 501.7 826.1 498.8 828.1 489.4C830.1 480.0 832.9 462.4 835.3 449.8C837.7 437.2 840.1 425.8 842.5 413.8C844.9 401.8 847.3 389.9 849.7 377.9C852.1 365.9 854.2 353.9 856.9 341.9C859.6 329.9 862.9 316.7 865.9 305.9C868.9 295.1 871.6 286.6 874.9 277.2C878.2 267.8 882.2 256.4 885.7 249.4C889.2 242.5 892.5 238.5 896.0 235.5C899.5 232.5 903.0 231.5 906.4 231.5C909.8 231.5 913.1 232.5 916.5 235.5C919.9 238.5 923.8 243.1 927.0 249.4C930.2 255.8 933.0 264.8 936.0 273.6C939.0 282.4 942.3 292.4 945.0 302.3C947.7 312.2 949.8 321.8 952.2 332.9C954.6 344.0 957.3 358.4 959.4 368.9C961.5 379.4 963.0 386.9 964.8 395.9C966.6 404.9 968.4 413.8 970.2 422.8C972.0 431.8 973.5 439.1 975.6 449.8C977.7 460.5 980.8 475.5 983.0 487.0C985.2 498.5 987.2 509.3 989.0 519.0C990.8 528.7 992.5 538.2 994.0 545.0C995.5 551.8 996.7 560.0 998.0 560.0C999.3 560.0 1000.3 551.8 1002.0 545.0C1003.7 538.2 1005.3 526.7 1008.0 519.0C1010.7 511.3 1014.0 505.0 1018.0 499.0C1022.0 493.0 1027.0 486.5 1032.0 483.0C1037.0 479.5 1043.0 478.0 1048.0 478.0C1053.0 478.0 1057.3 480.5 1062.0 483.0C1066.7 485.5 1072.0 488.7 1076.0 493.0C1080.0 497.3 1083.3 503.7 1086.0 509.0C1088.7 514.3 1089.7 518.3 1092.0 525.0C1094.3 531.7 1097.7 541.7 1100.0 549.0C1102.3 556.3 1104.0 561.7 1106.0 569.0C1108.0 576.3 1110.0 584.7 1112.0 593.0C1114.0 601.3 1116.0 610.7 1118.0 619.0C1120.0 627.3 1122.3 637.0 1124.0 643.0C1125.7 649.0 1126.3 653.8 1128.0 655.0C1129.7 656.2 1131.3 654.0 1134.0 650.0C1136.7 646.0 1141.0 637.8 1144.0 631.0C1147.0 624.2 1149.3 616.3 1152.0 609.0C1154.7 601.7 1157.3 593.3 1160.0 587.0C1162.7 580.7 1165.0 575.3 1168.0 571.0C1171.0 566.7 1174.3 563.2 1178.0 561.0C1181.7 558.8 1186.0 558.0 1190.0 558.0C1194.0 558.0 1198.0 559.2 1202.0 561.0C1206.0 562.8 1209.7 565.0 1214.0 569.0C1218.3 573.0 1223.3 580.0 1228.0 585.0C1232.7 590.0 1237.0 595.3 1242.0 599.0C1247.0 602.7 1252.7 603.0 1258.0 607.0C1263.3 611.0 1270.0 617.5 1274.0 623.0C1278.0 628.5 1279.0 635.7 1282.0 640.0C1285.0 644.3 1288.7 646.5 1292.0 649.0C1295.3 651.5 1297.7 653.0 1302.0 655.0C1306.3 657.0 1313.0 657.7 1318.0 661.0C1323.0 664.3 1328.0 669.7 1332.0 675.0C1336.0 680.3 1338.3 687.7 1342.0 693.0C1345.7 698.3 1349.7 703.0 1354.0 707.0C1358.3 711.0 1363.3 713.7 1368.0 717.0C1372.7 720.3 1377.7 723.7 1382.0 727.0C1386.3 730.3 1390.3 733.0 1394.0 737.0C1397.7 741.0 1401.0 746.3 1404.0 751.0C1407.0 755.7 1409.0 760.7 1412.0 765.0C1415.0 769.3 1418.3 774.0 1422.0 777.0C1425.7 780.0 1429.7 782.3 1434.0 783.0C1438.3 783.7 1443.3 782.0 1448.0 781.0C1452.7 780.0 1458.0 777.7 1462.0 777.0C1466.0 776.3 1468.7 776.0 1472.0 777.0C1475.3 778.0 1478.7 780.0 1482.0 783.0C1485.3 786.0 1489.0 790.0 1492.0 795.0C1495.0 800.0 1497.7 806.7 1500.0 813.0C1502.3 819.3 1504.0 826.3 1506.0 833.0C1508.0 839.7 1510.0 845.7 1512.0 853.0C1514.0 860.3 1516.0 868.7 1518.0 877.0C1520.0 885.3 1522.0 893.7 1524.0 903.0C1526.0 912.3 1528.0 923.0 1530.0 933.0C1532.0 943.0 1534.0 954.0 1536.0 963.0C1538.0 972.0 1540.3 981.3 1542.0 987.0C1543.7 992.7 1544.3 997.0 1546.0 997.0C1547.7 997.0 1550.0 992.0 1552.0 987.0C1554.0 982.0 1556.0 974.3 1558.0 967.0C1560.0 959.7 1562.0 950.7 1564.0 943.0C1566.0 935.3 1567.7 927.7 1570.0 921.0C1572.3 914.3 1575.3 907.3 1578.0 903.0C1580.7 898.7 1583.7 896.5 1586.0 895.0C1588.3 893.5 1589.7 892.7 1592.0 894.0C1594.3 895.3 1597.7 898.8 1600.0 903.0C1602.3 907.2 1604.0 912.8 1606.0 919.0C1608.0 925.2 1611.0 936.5 1612.0 940.0"/>
<path class="sim" stroke="#666C46" d="M203.0 701.0C205.2 705.7 211.5 720.0 216.0 729.0C220.5 738.0 225.0 746.0 230.0 755.0C235.0 764.0 241.0 774.7 246.0 783.0C251.0 791.3 256.3 799.3 260.0 805.0C263.7 810.7 265.5 814.0 268.0 817.0C270.5 820.0 272.7 825.8 275.0 823.0C277.3 820.2 279.8 808.8 282.0 800.0C284.2 791.2 286.0 779.2 288.0 770.0C290.0 760.8 291.3 756.7 294.0 745.0C296.7 733.3 301.0 713.7 304.0 700.0C307.0 686.3 309.3 672.2 312.0 663.0C314.7 653.8 317.0 649.0 320.0 645.0C323.0 641.0 326.7 639.0 330.0 639.0C333.3 639.0 337.0 641.0 340.0 645.0C343.0 649.0 345.7 655.7 348.0 663.0C350.3 670.3 352.0 679.7 354.0 689.0C356.0 698.3 358.3 709.0 360.0 719.0C361.7 729.0 362.7 739.0 364.0 749.0C365.3 759.0 366.7 768.8 368.0 779.0C369.3 789.2 371.0 797.7 372.0 810.0C373.0 822.3 373.0 839.2 374.0 853.0C375.0 866.8 376.7 879.7 378.0 893.0C379.3 906.3 380.7 919.7 382.0 933.0C383.3 946.3 384.8 961.3 386.0 973.0C387.2 984.7 388.2 996.0 389.0 1003.0C389.8 1010.0 390.3 1016.7 391.0 1015.0C391.7 1013.3 392.2 1003.3 393.0 993.0C393.8 982.7 395.0 966.3 396.0 953.0C397.0 939.7 398.0 926.3 399.0 913.0C400.0 899.7 401.0 884.7 402.0 873.0C403.0 861.3 404.0 853.0 405.0 843.0C406.0 833.0 406.5 821.7 408.0 813.0C409.8 802.3 413.3 791.3 416.0 779.0C418.7 766.7 421.7 749.0 424.0 739.0C426.3 729.0 427.3 728.0 430.0 719.0C432.7 710.0 436.7 696.7 440.0 685.0C443.3 673.3 447.0 660.0 450.0 649.0C453.0 638.0 455.3 629.0 458.0 619.0C460.7 609.0 463.0 598.3 466.0 589.0C469.0 579.7 472.7 570.0 476.0 563.0C479.3 556.0 482.0 550.8 486.0 547.0C490.0 543.2 495.3 540.0 500.0 540.0C504.7 540.0 509.7 543.2 514.0 547.0C518.3 550.8 522.7 557.7 526.0 563.0C529.3 568.3 531.3 574.0 534.0 579.0C536.7 584.0 539.3 586.3 542.0 593.0C544.7 599.7 547.3 609.7 550.0 619.0C552.7 628.3 555.3 640.0 558.0 649.0C560.7 658.0 563.3 667.0 566.0 673.0C568.7 679.0 571.3 684.7 574.0 685.0C576.7 685.3 579.7 681.0 582.0 675.0C584.3 669.0 586.0 658.3 588.0 649.0C590.0 639.7 592.0 629.0 594.0 619.0C596.0 609.0 597.7 599.0 600.0 589.0C602.3 579.0 605.3 566.7 608.0 559.0C610.7 551.3 613.0 546.5 616.0 543.0C619.0 539.5 622.7 537.7 626.0 538.0C629.3 538.3 633.0 540.8 636.0 545.0C639.0 549.2 641.3 556.3 644.0 563.0C646.7 569.7 649.3 578.0 652.0 585.0C654.7 592.0 657.3 600.3 660.0 605.0C662.7 609.7 665.7 614.0 668.0 613.0C670.3 612.0 672.0 605.3 674.0 599.0C676.0 592.7 678.0 583.3 680.0 575.0C682.0 566.7 684.0 556.7 686.0 549.0C688.0 541.3 690.0 534.7 692.0 529.0C694.0 523.3 695.6 523.2 698.0 515.0C700.4 506.8 703.6 491.8 706.5 480.0C709.4 468.2 712.2 456.0 715.2 444.0C718.2 432.0 721.5 419.1 724.2 408.0C726.9 396.9 728.8 388.0 731.4 377.3C734.0 366.6 737.4 353.6 740.0 344.0C742.6 334.4 744.5 328.4 747.2 320.0C749.9 311.6 752.9 302.1 756.2 293.3C759.5 284.6 763.4 274.5 767.0 267.5C770.6 260.5 774.2 255.0 777.8 251.5C781.4 248.0 785.0 246.2 788.6 246.5C792.2 246.8 795.8 248.8 799.4 253.0C803.0 257.2 806.7 264.5 810.0 271.8C813.3 279.1 816.3 288.6 819.0 297.0C821.7 305.4 824.2 313.6 826.3 322.0C828.4 330.4 829.9 338.9 831.7 347.3C833.5 355.7 835.2 364.1 837.0 372.5C838.8 380.9 841.0 389.3 842.5 397.7C844.0 406.1 845.0 414.1 846.2 422.8C847.4 431.5 848.7 440.8 849.9 449.8C851.1 458.8 852.2 465.3 853.5 476.8C854.8 488.3 856.1 505.3 857.5 519.0C858.9 532.7 860.6 543.8 862.0 559.0C863.4 574.2 864.7 594.8 866.0 610.0C867.3 625.2 868.7 641.7 870.0 650.0C871.3 658.3 872.3 661.7 874.0 660.0C875.7 658.3 877.7 647.5 880.0 640.0C882.3 632.5 885.3 620.0 888.0 615.0C890.7 610.0 893.0 609.2 896.0 610.0C899.0 610.8 902.7 615.8 906.0 620.0C909.3 624.2 913.0 631.7 916.0 635.0C919.0 638.3 921.7 643.3 924.0 640.0C926.3 636.7 928.3 624.2 930.0 615.0C931.7 605.8 932.0 594.3 934.0 585.0C936.0 575.7 938.7 565.0 942.0 559.0C945.3 553.0 950.0 549.0 954.0 549.0C958.0 549.0 962.7 553.0 966.0 559.0C969.3 565.0 971.7 576.7 974.0 585.0C976.3 593.3 978.0 601.0 980.0 609.0C982.0 617.0 984.0 625.3 986.0 633.0C988.0 640.7 990.0 648.3 992.0 655.0C994.0 661.7 996.2 670.5 998.0 673.0C999.8 675.5 1001.3 672.3 1003.0 670.0C1004.7 667.7 1005.8 664.2 1008.0 659.0C1010.2 653.8 1013.7 645.7 1016.0 639.0C1018.3 632.3 1019.7 625.3 1022.0 619.0C1024.3 612.7 1027.0 605.0 1030.0 601.0C1033.0 597.0 1036.3 595.7 1040.0 595.0C1043.7 594.3 1048.7 595.0 1052.0 597.0C1055.3 599.0 1056.7 604.7 1060.0 607.0C1063.3 609.3 1068.0 610.0 1072.0 611.0C1076.0 612.0 1080.0 612.2 1084.0 613.0C1088.0 613.8 1092.3 615.3 1096.0 616.0C1099.7 616.7 1103.0 617.5 1106.0 617.0C1109.0 616.5 1111.3 614.7 1114.0 613.0C1116.7 611.3 1119.2 610.2 1122.0 607.0C1124.8 603.8 1128.0 599.0 1131.0 594.0C1134.0 589.0 1137.0 582.2 1140.0 577.0C1143.0 571.8 1146.0 567.7 1149.0 563.0C1152.0 558.3 1155.0 552.8 1158.0 549.0C1161.0 545.2 1164.0 542.3 1167.0 540.0C1170.0 537.7 1172.2 536.0 1176.0 535.0C1179.8 534.0 1185.5 533.5 1190.0 534.0C1194.5 534.5 1198.5 536.2 1203.0 538.0C1207.5 539.8 1212.5 542.3 1217.0 545.0C1221.5 547.7 1225.5 550.8 1230.0 554.0C1234.5 557.2 1239.7 560.7 1244.0 564.0C1248.3 567.3 1252.0 568.8 1256.0 574.0C1260.0 579.2 1263.7 590.5 1268.0 595.0C1272.3 599.5 1277.7 598.3 1282.0 601.0C1286.3 603.7 1290.0 606.7 1294.0 611.0C1298.0 615.3 1302.7 621.7 1306.0 627.0C1309.3 632.3 1311.3 637.0 1314.0 643.0C1316.7 649.0 1319.3 656.0 1322.0 663.0C1324.7 670.0 1327.7 678.0 1330.0 685.0C1332.3 692.0 1334.0 698.3 1336.0 705.0C1338.0 711.7 1340.0 719.7 1342.0 725.0C1344.0 730.3 1345.7 734.3 1348.0 737.0C1350.3 739.7 1353.0 740.3 1356.0 741.0C1359.0 741.7 1362.3 740.7 1366.0 741.0C1369.7 741.3 1374.7 741.3 1378.0 743.0C1381.3 744.7 1383.7 747.0 1386.0 751.0C1388.3 755.0 1390.0 760.7 1392.0 767.0C1394.0 773.3 1396.0 781.8 1398.0 789.0C1400.0 796.2 1402.0 804.3 1404.0 810.0C1406.0 815.7 1408.0 820.0 1410.0 823.0C1412.0 826.0 1414.0 828.0 1416.0 828.0C1418.0 828.0 1419.7 826.8 1422.0 823.0C1424.3 819.2 1427.7 812.3 1430.0 805.0C1432.3 797.7 1434.0 787.7 1436.0 779.0C1438.0 770.3 1440.0 760.7 1442.0 753.0C1444.0 745.3 1445.7 738.7 1448.0 733.0C1450.3 727.3 1453.3 721.7 1456.0 719.0C1458.7 716.3 1461.0 716.3 1464.0 717.0C1467.0 717.7 1471.0 719.3 1474.0 723.0C1477.0 726.7 1479.7 733.0 1482.0 739.0C1484.3 745.0 1486.0 752.3 1488.0 759.0C1490.0 765.7 1492.0 773.7 1494.0 779.0C1496.0 784.3 1497.7 790.0 1500.0 791.0C1502.3 792.0 1505.7 790.3 1508.0 785.0C1510.3 779.7 1512.0 768.3 1514.0 759.0C1516.0 749.7 1518.0 738.3 1520.0 729.0C1522.0 719.7 1523.7 710.7 1526.0 703.0C1528.3 695.3 1531.3 688.0 1534.0 683.0C1536.7 678.0 1539.7 675.0 1542.0 673.0C1544.3 671.0 1545.7 670.0 1548.0 671.0C1550.3 672.0 1553.3 674.3 1556.0 679.0C1558.7 683.7 1561.7 692.3 1564.0 699.0C1566.3 705.7 1568.0 711.3 1570.0 719.0C1572.0 726.7 1574.0 735.0 1576.0 745.0C1578.0 755.0 1580.3 768.2 1582.0 779.0C1583.7 789.8 1584.7 801.5 1586.0 810.0C1587.3 818.5 1588.7 823.3 1590.0 830.0C1591.3 836.7 1592.7 844.0 1594.0 850.0C1595.3 856.0 1596.7 862.2 1598.0 866.0C1599.3 869.8 1600.7 873.5 1602.0 873.0C1603.3 872.5 1604.8 869.3 1606.0 863.0C1607.2 856.7 1607.8 845.5 1609.0 835.0C1610.2 824.5 1612.3 805.8 1613.0 800.0"/>
<path class="sim" stroke="#E6507D" d="M203.0 641.0C204.5 636.3 208.2 620.2 212.0 613.0C215.8 605.8 221.7 598.7 226.0 598.0C230.3 597.3 234.3 602.2 238.0 609.0C241.7 615.8 245.0 627.3 248.0 639.0C251.0 650.7 253.7 665.7 256.0 679.0C258.3 692.3 260.0 705.7 262.0 719.0C264.0 732.3 266.0 745.7 268.0 759.0C270.0 772.3 272.0 786.3 274.0 799.0C276.0 811.7 278.0 835.0 280.0 835.0C282.0 835.0 284.0 811.7 286.0 799.0C288.0 786.3 290.0 772.3 292.0 759.0C294.0 745.7 296.0 732.3 298.0 719.0C300.0 705.7 302.0 690.7 304.0 679.0C306.0 667.3 307.7 657.7 310.0 649.0C312.3 640.3 315.0 632.0 318.0 627.0C321.0 622.0 324.3 619.0 328.0 619.0C331.7 619.0 336.3 622.0 340.0 627.0C343.7 632.0 347.0 640.3 350.0 649.0C353.0 657.7 355.3 669.0 358.0 679.0C360.7 689.0 363.8 699.0 366.0 709.0C368.2 719.0 369.5 728.8 371.0 739.0C372.5 749.2 373.8 762.0 375.0 770.0C376.2 778.0 377.0 785.5 378.0 787.0C379.0 788.5 379.7 783.2 381.0 779.0C382.3 774.8 383.8 767.3 386.0 762.0C388.2 756.7 390.7 751.7 394.0 747.0C397.3 742.3 401.7 737.3 406.0 734.0C410.3 730.7 415.7 726.8 420.0 727.0C424.3 727.2 428.7 733.0 432.0 735.0C435.3 737.0 437.3 738.8 440.0 739.0C442.7 739.2 445.3 737.7 448.0 736.0C450.7 734.3 452.7 735.2 456.0 729.0C459.3 722.8 464.0 708.0 468.0 699.0C472.0 690.0 476.3 680.0 480.0 675.0C483.7 670.0 486.0 668.7 490.0 669.0C494.0 669.3 500.0 672.5 504.0 677.0C508.0 681.5 511.0 688.5 514.0 696.0C517.0 703.5 519.5 715.3 522.0 722.0C524.5 728.7 526.8 733.0 529.0 736.0C531.2 739.0 533.2 740.7 535.0 740.0C536.8 739.3 538.2 737.7 540.0 732.0C541.8 726.3 543.7 718.2 546.0 706.0C548.3 693.8 551.3 675.2 554.0 659.0C556.7 642.8 559.3 624.0 562.0 609.0C564.7 594.0 567.3 582.3 570.0 569.0C572.7 555.7 576.3 539.3 578.0 529.0C579.0 522.8 579.0 512.3 580.0 507.0C581.8 497.3 586.0 483.0 589.0 471.0C592.0 459.0 595.0 447.0 598.0 435.0C601.0 423.0 603.7 411.0 607.0 399.0C610.3 387.0 614.1 374.2 618.0 363.0C621.9 351.8 626.4 341.3 630.6 332.0C634.8 322.7 638.5 313.8 643.0 307.0C647.5 300.2 652.4 294.8 657.6 291.0C662.8 287.2 669.3 284.3 674.0 284.0C678.7 283.7 681.7 285.5 686.0 289.0C690.3 292.5 695.3 297.7 700.0 305.0C704.7 312.3 709.3 321.7 714.0 333.0C718.7 344.3 723.7 359.3 728.0 373.0C732.3 386.7 736.0 401.3 740.0 415.0C744.0 428.7 748.0 443.3 752.0 455.0C756.0 466.7 760.3 477.0 764.0 485.0C767.7 493.0 770.7 497.3 774.0 503.0C777.3 508.7 780.7 514.0 784.0 519.0C787.3 524.0 790.7 528.0 794.0 533.0C797.3 538.0 800.7 543.3 804.0 549.0C807.3 554.7 810.7 561.0 814.0 567.0C817.3 573.0 821.0 578.0 824.0 585.0C827.0 592.0 829.3 600.0 832.0 609.0C834.7 618.0 837.7 628.5 840.0 639.0C842.3 649.5 844.2 659.8 846.0 672.0C847.8 684.2 849.2 697.7 851.0 712.0C852.8 726.3 855.2 747.2 857.0 758.0C858.8 768.8 860.7 772.8 862.0 777.0C863.3 781.2 864.0 783.5 865.0 783.0C866.0 782.5 867.0 779.7 868.0 774.0C869.0 768.3 869.8 761.0 871.0 749.0C872.2 737.0 873.5 717.0 875.0 702.0C876.5 687.0 878.2 674.5 880.0 659.0C881.8 643.5 884.0 624.0 886.0 609.0C888.0 594.0 889.7 582.3 892.0 569.0C894.3 555.7 897.3 542.0 900.0 529.0C902.7 516.0 905.0 500.0 908.0 491.0C911.0 482.0 914.7 478.2 918.0 475.0C921.3 471.8 924.7 471.3 928.0 472.0C931.3 472.7 934.7 474.5 938.0 479.0C941.3 483.5 944.7 492.3 948.0 499.0C951.3 505.7 955.0 512.3 958.0 519.0C961.0 525.7 963.3 533.0 966.0 539.0C968.7 545.0 971.3 550.7 974.0 555.0C976.7 559.3 979.0 563.7 982.0 565.0C985.0 566.3 988.3 565.0 992.0 563.0C995.7 561.0 1000.0 557.0 1004.0 553.0C1008.0 549.0 1012.0 542.3 1016.0 539.0C1020.0 535.7 1024.0 534.2 1028.0 533.0C1032.0 531.8 1036.0 531.3 1040.0 532.0C1044.0 532.7 1048.0 534.8 1052.0 537.0C1056.0 539.2 1060.0 542.0 1064.0 545.0C1068.0 548.0 1072.0 551.7 1076.0 555.0C1080.0 558.3 1084.0 562.3 1088.0 565.0C1092.0 567.7 1096.0 570.3 1100.0 571.0C1104.0 571.7 1108.0 571.0 1112.0 569.0C1116.0 567.0 1120.0 562.7 1124.0 559.0C1128.0 555.3 1132.0 551.0 1136.0 547.0C1140.0 543.0 1144.0 538.2 1148.0 535.0C1152.0 531.8 1156.3 529.0 1160.0 528.0C1163.7 527.0 1166.7 527.5 1170.0 529.0C1173.3 530.5 1176.7 533.3 1180.0 537.0C1183.3 540.7 1187.0 545.3 1190.0 551.0C1193.0 556.7 1195.3 564.5 1198.0 571.0C1200.7 577.5 1203.3 584.7 1206.0 590.0C1208.7 595.3 1211.0 598.2 1214.0 603.0C1217.0 607.8 1221.0 614.0 1224.0 619.0C1227.0 624.0 1229.0 629.0 1232.0 633.0C1235.0 637.0 1238.3 641.7 1242.0 643.0C1245.7 644.3 1249.7 642.3 1254.0 641.0C1258.3 639.7 1263.3 636.3 1268.0 635.0C1272.7 633.7 1277.3 632.7 1282.0 633.0C1286.7 633.3 1291.3 635.0 1296.0 637.0C1300.7 639.0 1305.7 643.0 1310.0 645.0C1314.3 647.0 1317.3 648.3 1322.0 649.0C1326.7 649.7 1332.7 649.3 1338.0 649.0C1343.3 648.7 1349.0 647.3 1354.0 647.0C1359.0 646.7 1364.0 645.0 1368.0 647.0C1372.0 649.0 1375.0 654.3 1378.0 659.0C1381.0 663.7 1383.3 670.3 1386.0 675.0C1388.7 679.7 1390.7 684.7 1394.0 687.0C1397.3 689.3 1402.0 690.3 1406.0 689.0C1410.0 687.7 1414.0 682.7 1418.0 679.0C1422.0 675.3 1426.0 670.2 1430.0 667.0C1434.0 663.8 1438.3 661.0 1442.0 660.0C1445.7 659.0 1448.7 658.5 1452.0 661.0C1455.3 663.5 1459.0 669.3 1462.0 675.0C1465.0 680.7 1467.3 687.7 1470.0 695.0C1472.7 702.3 1475.3 711.7 1478.0 719.0C1480.7 726.3 1483.3 733.0 1486.0 739.0C1488.7 745.0 1491.3 751.0 1494.0 755.0C1496.7 759.0 1499.3 762.7 1502.0 763.0C1504.7 763.3 1507.3 760.3 1510.0 757.0C1512.7 753.7 1515.3 747.3 1518.0 743.0C1520.7 738.7 1523.3 733.3 1526.0 731.0C1528.7 728.7 1531.3 728.0 1534.0 729.0C1536.7 730.0 1539.7 732.0 1542.0 737.0C1544.3 742.0 1546.0 750.3 1548.0 759.0C1550.0 767.7 1552.0 780.5 1554.0 789.0C1556.0 797.5 1557.7 804.7 1560.0 810.0C1562.3 815.3 1565.3 818.7 1568.0 821.0C1570.7 823.3 1573.7 824.3 1576.0 824.0C1578.3 823.7 1580.0 822.2 1582.0 819.0C1584.0 815.8 1586.3 810.0 1588.0 805.0C1589.7 800.0 1590.3 796.0 1592.0 789.0C1593.7 782.0 1596.0 770.3 1598.0 763.0C1600.0 755.7 1601.7 750.5 1604.0 745.0C1606.3 739.5 1610.7 732.5 1612.0 730.0"/>
<path class="sim" stroke="#28785A" d="M203.0 800.0C204.2 804.2 207.5 817.8 210.0 825.0C212.5 832.2 215.5 838.8 218.0 843.0C220.5 847.2 222.7 850.0 225.0 850.0C227.3 850.0 229.8 846.7 232.0 843.0C234.2 839.3 236.2 833.5 238.0 828.0C239.8 822.5 241.0 818.2 243.0 810.0C245.0 801.8 247.5 790.8 250.0 779.0C252.5 767.2 255.3 752.3 258.0 739.0C260.7 725.7 263.0 711.0 266.0 699.0C269.0 687.0 272.7 675.2 276.0 667.0C279.3 658.8 283.0 653.3 286.0 650.0C289.0 646.7 291.0 645.5 294.0 647.0C297.0 648.5 301.0 653.0 304.0 659.0C307.0 665.0 309.7 674.3 312.0 683.0C314.3 691.7 316.3 701.7 318.0 711.0C319.7 720.3 320.7 729.3 322.0 739.0C323.3 748.7 324.7 759.0 326.0 769.0C327.3 779.0 328.7 787.2 330.0 799.0C331.3 810.8 332.7 828.2 334.0 840.0C335.3 851.8 336.7 869.2 338.0 870.0C339.3 870.8 340.7 852.5 342.0 845.0C343.3 837.5 344.7 832.5 346.0 825.0C347.3 817.5 348.7 807.7 350.0 800.0C351.3 792.3 352.7 789.2 354.0 779.0C355.3 768.8 356.3 750.7 358.0 739.0C359.7 727.3 361.7 719.0 364.0 709.0C366.3 699.0 369.3 686.3 372.0 679.0C374.7 671.7 377.3 667.8 380.0 665.0C382.7 662.2 385.0 661.0 388.0 662.0C391.0 663.0 395.0 665.8 398.0 671.0C401.0 676.2 403.7 685.0 406.0 693.0C408.3 701.0 410.0 709.7 412.0 719.0C414.0 728.3 416.0 739.0 418.0 749.0C420.0 759.0 422.3 768.8 424.0 779.0C425.7 789.2 426.8 801.2 428.0 810.0C429.2 818.8 430.0 826.2 431.0 832.0C432.0 837.8 433.0 844.5 434.0 845.0C435.0 845.5 436.0 840.5 437.0 835.0C438.0 829.5 438.8 821.2 440.0 812.0C441.2 802.8 442.7 792.2 444.0 780.0C445.3 767.8 446.3 754.2 448.0 739.0C449.7 723.8 452.0 705.7 454.0 689.0C456.0 672.3 457.7 655.7 460.0 639.0C462.3 622.3 465.7 603.0 468.0 589.0C470.3 575.0 472.2 565.2 474.0 555.0C475.8 544.8 477.0 537.9 478.7 528.0C480.4 518.1 482.3 506.2 484.4 495.4C486.4 484.5 488.7 473.8 491.0 462.9C493.3 452.0 495.9 440.6 498.3 430.3C500.7 420.0 503.0 410.8 505.6 401.0C508.2 391.2 511.0 380.7 513.7 371.7C516.4 362.7 518.9 354.8 521.9 347.2C524.9 339.6 527.9 333.5 531.7 326.0C535.6 318.5 540.8 308.8 545.0 302.0C549.2 295.2 553.3 289.5 557.0 285.5C560.7 281.5 563.7 279.7 567.0 278.0C570.3 276.3 573.7 275.6 577.0 275.5C580.3 275.4 583.5 275.6 587.0 277.5C590.5 279.4 593.7 281.8 598.0 287.0C602.3 292.2 608.4 300.8 612.6 309.0C616.9 317.2 620.2 327.0 623.5 336.0C626.8 345.0 629.8 354.0 632.5 363.0C635.2 372.0 637.2 381.0 639.6 390.0C642.0 399.0 644.4 406.5 646.8 417.0C649.2 427.5 651.6 441.0 654.0 453.0C656.4 465.0 658.9 478.0 661.0 489.0C663.1 500.0 664.8 509.0 666.6 519.0C668.4 529.0 670.1 539.7 672.0 549.0C673.9 558.3 676.0 568.2 678.0 575.0C680.0 581.8 682.0 587.2 684.0 590.0C686.0 592.8 687.7 592.3 690.0 592.0C692.3 591.7 695.3 590.0 698.0 588.0C700.7 586.0 703.3 582.8 706.0 580.0C708.7 577.2 711.0 574.0 714.0 571.0C717.0 568.0 720.7 564.3 724.0 562.0C727.3 559.7 730.7 557.2 734.0 557.0C737.3 556.8 741.0 558.3 744.0 561.0C747.0 563.7 749.7 567.3 752.0 573.0C754.3 578.7 756.0 585.7 758.0 595.0C760.0 604.3 762.0 616.7 764.0 629.0C766.0 641.3 768.0 655.7 770.0 669.0C772.0 682.3 774.0 696.8 776.0 709.0C778.0 721.2 780.3 733.7 782.0 742.0C783.7 750.3 784.7 760.2 786.0 759.0C787.3 757.8 788.7 746.5 790.0 735.0C791.3 723.5 792.7 705.0 794.0 690.0C795.3 675.0 796.3 660.2 798.0 645.0C799.7 629.8 802.0 611.7 804.0 599.0C806.0 586.3 808.0 577.2 810.0 569.0C812.0 560.8 813.7 554.8 816.0 550.0C818.3 545.2 821.0 540.2 824.0 540.0C827.0 539.8 830.7 544.2 834.0 549.0C837.3 553.8 841.0 560.7 844.0 569.0C847.0 577.3 849.7 589.0 852.0 599.0C854.3 609.0 856.0 620.7 858.0 629.0C860.0 637.3 862.0 644.7 864.0 649.0C866.0 653.3 868.0 655.7 870.0 655.0C872.0 654.3 873.7 650.0 876.0 645.0C878.3 640.0 881.3 631.3 884.0 625.0C886.7 618.7 889.0 611.7 892.0 607.0C895.0 602.3 898.3 597.7 902.0 597.0C905.7 596.3 910.0 600.0 914.0 603.0C918.0 606.0 922.7 609.0 926.0 615.0C929.3 621.0 931.7 631.7 934.0 639.0C936.3 646.3 937.7 651.7 940.0 659.0C942.3 666.3 945.0 676.3 948.0 683.0C951.0 689.7 954.7 695.5 958.0 699.0C961.3 702.5 964.3 704.7 968.0 704.0C971.7 703.3 976.3 700.5 980.0 695.0C983.7 689.5 986.7 679.7 990.0 671.0C993.3 662.3 996.7 652.3 1000.0 643.0C1003.3 633.7 1006.3 624.3 1010.0 615.0C1013.7 605.7 1018.0 595.3 1022.0 587.0C1026.0 578.7 1029.7 572.0 1034.0 565.0C1038.3 558.0 1043.0 551.0 1048.0 545.0C1053.0 539.0 1058.7 533.2 1064.0 529.0C1069.3 524.8 1076.0 521.8 1080.0 520.0C1084.0 518.2 1085.0 517.5 1088.0 518.0C1091.0 518.5 1094.7 520.2 1098.0 523.0C1101.3 525.8 1105.0 529.7 1108.0 535.0C1111.0 540.3 1113.7 547.7 1116.0 555.0C1118.3 562.3 1120.0 570.0 1122.0 579.0C1124.0 588.0 1126.0 599.0 1128.0 609.0C1130.0 619.0 1132.0 629.0 1134.0 639.0C1136.0 649.0 1138.0 660.0 1140.0 669.0C1142.0 678.0 1144.3 688.0 1146.0 693.0C1147.7 698.0 1148.3 699.7 1150.0 699.0C1151.7 698.3 1154.0 694.3 1156.0 689.0C1158.0 683.7 1160.0 675.3 1162.0 667.0C1164.0 658.7 1166.0 647.7 1168.0 639.0C1170.0 630.3 1171.7 622.0 1174.0 615.0C1176.3 608.0 1179.0 601.7 1182.0 597.0C1185.0 592.3 1188.7 589.3 1192.0 587.0C1195.3 584.7 1198.3 584.7 1202.0 583.0C1205.7 581.3 1209.7 579.7 1214.0 577.0C1218.3 574.3 1223.3 569.5 1228.0 567.0C1232.7 564.5 1237.7 561.7 1242.0 562.0C1246.3 562.3 1250.7 565.2 1254.0 569.0C1257.3 572.8 1259.7 578.3 1262.0 585.0C1264.3 591.7 1266.0 600.7 1268.0 609.0C1270.0 617.3 1272.0 626.0 1274.0 635.0C1276.0 644.0 1278.0 654.0 1280.0 663.0C1282.0 672.0 1284.0 682.3 1286.0 689.0C1288.0 695.7 1290.0 700.2 1292.0 703.0C1294.0 705.8 1296.0 707.3 1298.0 706.0C1300.0 704.7 1301.7 700.2 1304.0 695.0C1306.3 689.8 1309.3 681.0 1312.0 675.0C1314.7 669.0 1317.3 662.7 1320.0 659.0C1322.7 655.3 1325.3 653.0 1328.0 653.0C1330.7 653.0 1333.3 654.7 1336.0 659.0C1338.7 663.3 1341.7 670.7 1344.0 679.0C1346.3 687.3 1348.0 699.0 1350.0 709.0C1352.0 719.0 1354.0 730.7 1356.0 739.0C1358.0 747.3 1360.0 753.2 1362.0 759.0C1364.0 764.8 1365.7 772.0 1368.0 774.0C1370.3 776.0 1372.7 775.2 1376.0 771.0C1379.3 766.8 1384.3 754.0 1388.0 749.0C1391.7 744.0 1394.7 741.0 1398.0 741.0C1401.3 741.0 1405.0 745.3 1408.0 749.0C1411.0 752.7 1413.0 758.7 1416.0 763.0C1419.0 767.3 1423.3 774.7 1426.0 775.0C1428.7 775.3 1429.7 772.7 1432.0 765.0C1434.3 757.3 1437.3 740.0 1440.0 729.0C1442.7 718.0 1445.7 708.5 1448.0 699.0C1450.3 689.5 1451.7 680.2 1454.0 672.0C1456.3 663.8 1459.3 656.3 1462.0 650.0C1464.7 643.7 1467.5 638.0 1470.0 634.0C1472.5 630.0 1474.8 627.7 1477.0 626.0C1479.2 624.3 1480.8 623.7 1483.0 624.0C1485.2 624.3 1487.7 625.3 1490.0 628.0C1492.3 630.7 1494.8 635.0 1497.0 640.0C1499.2 645.0 1501.2 651.7 1503.0 658.0C1504.8 664.3 1506.2 669.5 1508.0 678.0C1509.8 686.5 1512.0 698.8 1514.0 709.0C1516.0 719.2 1518.0 729.7 1520.0 739.0C1522.0 748.3 1524.0 758.7 1526.0 765.0C1528.0 771.3 1530.0 776.3 1532.0 777.0C1534.0 777.7 1536.0 773.7 1538.0 769.0C1540.0 764.3 1542.0 757.3 1544.0 749.0C1546.0 740.7 1548.0 728.3 1550.0 719.0C1552.0 709.7 1553.7 700.3 1556.0 693.0C1558.3 685.7 1561.0 678.8 1564.0 675.0C1567.0 671.2 1570.7 669.7 1574.0 670.0C1577.3 670.3 1581.0 672.8 1584.0 677.0C1587.0 681.2 1589.3 688.0 1592.0 695.0C1594.7 702.0 1597.7 711.7 1600.0 719.0C1602.3 726.3 1604.0 732.2 1606.0 739.0C1608.0 745.8 1611.0 756.5 1612.0 760.0"/>
<path class="mea" stroke="#FCBFFD" d="M258.6 1185.3L258.9 1181.8L259.1 1178.2L259.4 1174.7M262.2 1154.2L262.7 1150.1L263.2 1145.9L263.7 1141.7M266.3 1116.3L266.8 1112.1L267.2 1107.9L267.6 1103.7M270.3 1078.3L270.8 1074.1L271.2 1069.9L271.8 1065.7M275.2 1040.2L275.7 1036.1L276.3 1031.9L276.8 1027.8M280.2 1002.7L280.8 998.5L281.4 994.4L282.0 990.2M285.8 965.2L286.6 961.1L287.4 956.9L288.3 952.8M294.5 927.0L295.5 923.0L296.5 919.0L297.6 915.0M304.2 890.7L305.4 886.9L306.6 883.1L307.9 879.3M318.7 856.1L320.7 853.8L323.5 852.8L326.4 853.8M341.3 866.4L343.1 868.2L344.9 869.8L346.7 871.6M356.3 879.3L360.3 880.2L362.9 877.1L364.0 873.1M369.0 847.2L369.7 843.1L370.3 838.9L371.0 834.8M374.8 808.2L375.4 804.0L376.0 799.9L376.7 795.7M381.0 769.0L381.7 765.0L382.3 761.0L382.9 757.0M386.8 733.1L387.6 729.0L388.5 725.0L389.4 721.0M396.1 696.3L397.3 692.7L398.7 689.3L400.2 685.8M412.4 666.9L414.9 664.1L417.5 661.4L420.2 658.8M436.4 644.1L438.9 640.8L441.0 637.2L442.8 633.3M452.1 607.8L453.3 604.6L454.7 601.4L456.1 598.3M466.1 580.4L468.4 577.8L471.7 576.8L475.2 577.7M493.7 588.0L496.6 590.0L499.4 592.0L502.2 594.0M518.1 606.6L520.8 609.4L523.1 612.6L525.3 615.9M534.5 637.9L535.6 641.7L536.6 645.5L537.5 649.4M542.6 672.7L543.3 676.6L544.0 680.5L544.8 684.4M551.0 707.0L552.3 711.0L553.7 715.0L555.0 719.0M565.5 743.9L567.2 747.3L568.8 750.7L570.4 754.1M581.6 775.0L583.2 777.6L584.7 780.4L586.1 783.2M594.0 798.7L596.2 802.2L599.4 801.5L600.9 797.6M606.9 769.2L607.6 765.1L608.4 760.9L609.1 756.8M613.9 729.3L614.6 726.4L615.5 723.6L616.6 720.9M627.6 709.0L631.2 707.6L634.6 709.1L637.0 712.0M648.1 732.0L649.9 735.4L652.2 738.5L654.7 741.4M669.8 732.9L671.3 729.0L672.7 725.0L673.9 721.1M681.1 696.8L682.3 692.9L683.7 689.1L685.2 685.3M697.9 663.5L700.0 660.5L701.9 657.4L703.7 654.3M715.3 634.9L717.1 632.3L718.9 629.7L720.8 627.2M731.4 613.1L734.1 609.9L738.1 608.7L742.2 609.2M774.7 627.8L778.2 629.1L781.6 628.1L784.1 625.4M795.5 605.4L797.2 602.5L798.9 599.6L800.6 596.7M810.6 580.3L812.8 576.7L815.2 573.3L817.8 570.0M833.6 549.3L836.3 546.2L839.9 544.1L843.9 543.2M863.8 556.1L865.9 559.7L867.6 563.5L869.1 567.3M877.0 591.0L878.3 594.9L879.6 598.8L880.9 602.7M888.9 626.3L890.2 630.2L891.7 634.1L893.2 637.9M902.7 660.8L903.3 664.9L903.7 669.0L904.0 673.1M907.3 697.8L908.1 701.8L909.0 705.8L909.9 709.9M914.9 734.3L915.5 738.4L916.0 742.5L916.6 746.5M920.2 771.2L921.2 775.2L922.3 779.2L923.6 783.1M931.3 808.1L931.8 811.3L932.2 814.7L932.6 818.0M934.4 836.7L934.8 840.9L935.2 845.1L935.6 849.3M938.5 876.7L938.8 880.9L939.2 885.1L939.4 889.3M940.6 914.7L940.9 918.9L941.1 923.1L941.4 927.3M943.6 954.2L943.9 957.4L944.1 960.6L944.4 963.8M946.6 976.9L946.9 973.7L947.2 970.5L947.5 967.3M948.7 949.3L948.9 945.1L949.1 940.9L949.3 936.7M950.7 911.3L950.9 907.1L951.1 902.9L951.3 898.7M952.6 873.0L952.9 869.0L953.1 865.0L953.4 861.0M955.5 837.3L955.9 833.1L956.1 828.9L956.4 824.7M957.7 797.3L957.9 793.1L958.1 788.9L958.3 784.7M959.6 759.3L959.8 755.1L960.2 750.9L960.5 746.7M963.3 721.3L963.8 717.1L964.2 712.9L964.6 708.7M967.1 683.2L967.7 679.1L968.3 674.9L969.1 670.8M974.6 645.0L975.5 641.0L976.5 637.0L977.5 633.0M984.4 607.7L985.4 604.6L986.6 601.5L987.9 598.4M1001.2 597.4L1003.2 601.1L1004.7 605.0L1006.0 609.0M1011.8 634.8L1012.6 638.9L1013.4 643.1L1014.1 647.2M1018.2 674.7L1018.8 678.9L1019.2 683.1L1019.7 687.3M1021.5 712.7L1021.8 716.9L1022.2 721.1L1022.5 725.3M1024.5 751.2L1024.9 755.4L1025.2 759.6L1025.5 763.7M1027.6 789.6L1027.9 793.8L1028.2 798.0L1028.4 802.2M1029.7 828.7L1029.9 832.9L1030.1 837.1L1030.3 841.3M1031.7 867.6L1031.9 871.8L1032.2 876.0L1032.4 880.2M1033.7 905.6L1033.9 909.8L1034.2 914.0L1034.4 918.2M1035.8 944.3L1036.0 948.4L1036.1 952.5L1036.3 956.6M1036.9 981.2L1037.0 985.4L1037.1 989.6L1037.2 993.8M1037.8 1019.2L1038.0 1023.4L1038.1 1027.6L1038.2 1031.8M1038.9 1057.7L1039.0 1061.9L1039.1 1066.0L1039.2 1070.2M1039.9 1095.6L1040.0 1099.7L1040.1 1103.9L1040.1 1108.1M1040.4 1133.2L1040.4 1137.3L1040.5 1141.5L1040.5 1145.6M1040.8 1170.7L1040.9 1174.9L1041.0 1179.0L1041.1 1183.2M1044.8 1188.9L1044.9 1184.7L1045.0 1180.6L1045.1 1176.4M1045.6 1151.3L1045.6 1147.2L1045.7 1143.0L1045.8 1138.9M1046.2 1113.8L1046.3 1109.6L1046.3 1105.5L1046.4 1101.3M1046.9 1076.3L1046.9 1072.1L1047.0 1067.9L1047.1 1063.7M1047.7 1038.2L1047.9 1034.0L1048.0 1029.8L1048.2 1025.6M1049.6 999.8L1049.8 995.6L1050.1 991.4L1050.4 987.2M1052.4 961.7L1052.8 957.6L1053.1 953.4L1053.5 949.2M1056.2 923.3L1056.7 919.1L1057.3 914.9L1057.8 910.8M1062.0 884.4L1062.6 880.8L1063.4 877.2L1064.2 873.6M1071.5 853.3L1074.1 850.4L1077.6 851.1L1079.8 854.4M1086.7 876.9L1087.5 881.0L1088.5 885.0L1089.3 889.1M1095.8 914.8L1097.0 917.7L1099.3 920.0L1102.4 920.3M1113.8 906.9L1115.3 903.0L1116.6 899.0L1117.6 894.9M1122.1 869.2L1122.7 865.1L1123.3 860.9L1123.8 856.8M1126.4 831.0L1126.8 827.0L1127.2 823.0L1127.5 819.0M1129.4 795.3L1129.8 791.1L1130.2 786.9L1130.6 782.7M1133.4 755.3L1133.8 751.1L1134.2 746.9L1134.6 742.7M1137.5 710.9L1137.8 707.0L1138.2 703.0L1138.4 699.1M1140.0 675.5L1140.3 671.5L1140.6 667.6L1140.9 663.7M1143.0 640.1L1143.5 636.2L1143.9 632.3L1144.4 628.4M1147.3 605.3L1147.8 601.1L1148.2 596.9L1148.6 592.7M1151.5 562.3L1151.8 558.8L1152.2 555.2L1152.6 551.7M1155.2 531.2L1155.7 527.1L1156.3 522.9L1156.9 518.8M1161.1 489.2L1161.7 485.1L1162.3 480.9L1162.9 476.8M1167.0 451.2L1167.7 447.1L1168.3 442.9L1169.0 438.8M1173.0 412.7L1173.6 408.9L1174.4 405.1L1175.2 401.3M1180.5 379.1L1181.5 375.0L1182.5 371.0L1183.5 366.9M1190.4 338.6L1191.4 334.9L1192.6 331.1L1193.8 327.4M1203.2 305.8L1205.2 302.5L1207.3 299.2L1209.7 296.1M1230.6 287.0L1234.4 287.5L1238.2 288.5L1241.7 290.1M1258.0 306.9L1260.2 310.2L1262.3 313.4L1264.3 316.8M1275.6 337.5L1277.2 341.1L1278.7 344.7L1280.1 348.3M1286.9 370.9L1287.9 374.6L1288.9 378.4L1289.8 382.2M1294.7 404.8L1295.6 408.9L1296.4 413.1L1297.3 417.2M1302.8 442.8L1303.6 446.9L1304.4 451.1L1305.2 455.2M1309.9 480.8L1310.6 484.9L1311.4 489.1L1312.2 493.2M1316.9 518.8L1317.6 522.9L1318.3 527.1L1319.0 531.2M1322.9 556.8L1323.6 560.9L1324.4 565.1L1325.2 569.2M1331.1 597.7L1331.7 601.2L1332.3 604.8L1332.8 608.3M1335.2 628.8L1335.7 632.9L1336.3 637.1L1336.9 641.2M1341.0 667.0L1341.7 671.0L1342.3 675.0L1342.9 679.0M1346.8 703.5L1347.6 707.2L1348.4 710.8L1349.4 714.4M1360.6 733.0L1364.3 733.8L1368.0 733.6L1371.5 732.2M1386.7 714.8L1388.9 712.2L1391.1 709.7L1393.1 707.0M1410.1 699.3L1413.4 699.9L1416.7 700.6L1419.9 701.6M1437.3 708.8L1440.7 711.4L1443.0 714.8L1444.4 718.8M1452.4 748.9L1453.5 753.0L1454.5 757.0L1455.5 761.1M1462.5 793.0L1463.5 797.0L1464.5 801.0L1465.5 805.0M1472.6 831.0L1473.5 833.7L1474.5 836.3L1475.6 838.9M1485.1 851.2L1488.2 852.8L1491.8 852.8L1495.2 851.8M1514.7 842.4L1518.2 841.1L1521.8 841.4L1524.9 843.5M1537.2 861.4L1539.1 865.1L1540.9 868.9L1542.7 872.7M1553.9 897.5L1555.3 901.2L1556.7 904.8L1558.0 908.5M1564.5 930.9L1565.5 935.0L1566.5 939.0L1567.5 943.1M1572.7 968.8L1573.6 972.9L1574.4 977.1L1575.3 981.2M1580.8 1006.8L1581.6 1010.9L1582.4 1015.1L1583.1 1019.2M1587.1 1044.8L1587.7 1048.9L1588.3 1053.1L1588.9 1057.2M1592.3 1082.7L1592.8 1086.9L1593.2 1091.1L1593.7 1095.3M1596.2 1120.5L1596.6 1124.7L1597.0 1128.9L1597.4 1133.1M1599.8 1158.4L1600.2 1162.5L1600.6 1166.7L1601.0 1170.9"/>
<path class="mea" stroke="#4B82B8" d="M229.5 1202.1L229.8 1197.9L230.1 1193.7L230.5 1189.5M233.2 1164.3L233.7 1160.1L234.3 1155.9L234.8 1151.7M238.1 1126.2L238.7 1122.1L239.3 1117.9L240.0 1113.8M244.8 1086.1L245.6 1082.0L246.4 1078.0L247.2 1073.9M252.8 1049.6L253.8 1045.6L254.9 1041.6L255.9 1037.6M262.9 1013.7L264.1 1009.7L265.3 1005.8L266.6 1001.9M274.8 978.3L276.2 974.4L277.7 970.6L279.1 966.7M288.5 943.6L290.1 939.8L291.7 936.0L293.4 932.2M303.8 909.5L305.6 905.8L307.4 902.1L309.4 898.5M321.3 876.5L323.1 872.8L324.8 869.2L326.5 865.4M336.1 841.1L337.3 838.4L338.7 835.6L340.0 832.9M349.0 818.0L351.5 815.4L354.4 813.4L357.8 812.1M380.4 816.3L382.8 816.9L385.2 817.1L387.7 817.1M401.6 815.5L404.5 815.2L407.5 814.8L410.4 814.4M426.2 814.6L428.9 817.4L431.0 820.7L432.5 824.3M438.9 846.8L439.7 850.9L440.3 855.1L440.9 859.2M444.3 884.7L444.8 888.9L445.2 893.1L445.7 897.3M448.4 924.7L448.8 928.9L449.2 933.1L449.6 937.3M452.3 962.7L452.8 966.9L453.2 971.1L453.6 975.3M456.4 1002.4L456.8 1005.5L457.2 1008.5L457.7 1011.6M461.4 1028.5L463.0 1032.1L465.1 1029.3L466.0 1025.4M469.0 1001.2L469.6 997.0L470.5 993.0L471.6 989.0M479.3 964.9L480.5 961.0L481.5 957.0L482.5 953.1M487.9 929.2L488.6 925.1L489.4 920.9L490.0 916.8M493.3 891.3L493.8 887.1L494.2 882.9L494.7 878.7M497.4 852.3L497.8 848.1L498.2 843.9L498.6 839.7M501.2 811.2L501.6 807.2L502.0 803.2L502.5 799.2M505.2 775.2L505.7 771.1L506.3 766.9L506.8 762.8M510.6 737.2L511.5 733.0L512.5 729.0L513.6 724.9M522.2 699.0L523.3 696.3L524.7 693.7L526.4 691.3M543.6 687.0L546.4 687.0L549.3 687.0L552.1 687.1M566.9 689.5L570.6 691.5L573.1 694.8L574.6 698.7M580.8 725.0L581.6 729.0L582.4 733.0L583.3 737.0M588.6 761.3L589.5 765.1L590.5 768.9L591.5 772.7M601.7 793.7L605.1 795.2L608.7 796.4L612.1 798.2M620.5 818.9L621.5 823.0L622.5 827.0L623.5 831.1M628.8 856.8L629.6 860.9L630.4 865.1L631.1 869.2M634.9 894.8L635.6 898.9L636.4 903.1L637.2 907.2M642.7 932.8L643.6 936.9L644.4 941.1L645.2 945.2M650.0 970.8L650.7 974.9L651.3 979.1L651.9 983.2M654.5 1008.7L654.8 1012.9L655.2 1017.1L655.4 1021.3M656.7 1046.7L656.9 1050.9L657.1 1055.1L657.3 1059.3M658.7 1084.7L658.9 1088.9L659.1 1093.1L659.3 1097.3M660.4 1122.7L660.5 1126.9L660.7 1131.1L660.8 1135.3M661.6 1160.8L661.7 1165.0L661.7 1169.2L661.8 1173.4M665.2 1177.4L665.3 1173.2L665.4 1169.0L665.5 1164.8M666.0 1139.3L666.1 1135.1L666.2 1131.0L666.3 1126.8M666.9 1101.0L667.0 1097.0L667.0 1093.0L667.1 1089.0M667.8 1065.3L667.9 1061.1L668.1 1056.9L668.2 1052.7M668.8 1027.3L668.9 1023.1L669.1 1018.9L669.2 1014.7M669.8 989.3L669.9 985.1L670.1 980.9L670.2 976.7M670.8 951.3L670.9 947.1L671.1 942.9L671.2 938.7M671.8 913.3L671.9 909.1L672.1 904.9L672.3 900.7M673.7 875.3L673.9 871.1L674.1 866.9L674.3 862.7M675.6 837.3L675.9 833.1L676.1 828.9L676.4 824.7M678.5 799.3L678.8 795.1L679.2 790.9L679.5 786.7M681.5 761.3L681.8 757.1L682.2 752.9L682.5 748.7M684.4 723.3L684.8 719.1L685.2 714.9L685.7 710.7M689.2 685.3L689.8 681.1L690.2 676.9L690.7 672.7M693.3 645.0L693.7 641.0L694.3 637.0L694.8 633.0M698.8 609.2L699.6 605.1L700.4 600.9L701.3 596.8M707.5 572.0L708.6 567.9L709.8 563.9L711.1 559.9M719.0 535.5L720.0 531.4L720.9 527.3L721.8 523.2M730.1 498.0L731.4 494.7L732.6 491.3L733.9 488.0M742.1 466.8L743.3 464.2L744.7 461.8L746.3 459.5M759.7 457.2L762.6 459.7L765.4 462.3L768.0 465.1M781.9 484.9L783.3 487.6L784.7 490.4L785.9 493.2M792.1 509.2L793.4 513.0L794.6 517.0L795.7 520.9M801.5 544.9L802.5 548.9L803.5 552.8L804.5 556.8M810.8 580.7L812.1 584.5L814.5 586.5L816.0 582.8M821.5 558.7L822.1 554.6L822.6 550.6L823.1 546.5M826.0 522.0L826.5 518.0L826.9 513.9L827.4 509.8M830.5 485.3L831.1 481.3L831.7 477.2L832.3 473.2M836.2 448.8L836.9 444.8L837.6 440.8L838.4 436.8M843.2 412.6L844.0 408.5L844.8 404.5L845.6 400.5M850.5 376.3L851.3 372.3L852.1 368.3L852.8 364.3M857.8 340.1L858.7 336.1L859.7 332.1L860.6 328.2M866.9 304.3L868.0 300.3L869.1 296.4L870.3 292.5M878.5 269.2L879.9 265.4L881.5 261.6L883.1 257.9M901.2 240.3L903.6 241.3L905.7 242.6L907.6 244.3M916.8 254.7L918.9 257.6L921.1 260.4L923.1 263.4M933.8 281.1L935.3 285.0L936.6 289.0L937.9 293.0M944.5 318.9L945.5 323.0L946.5 327.0L947.4 331.1M952.8 357.4L953.6 361.1L954.4 364.9L955.2 368.6M959.8 390.8L960.6 394.9L961.4 399.1L962.2 403.2M967.0 430.8L967.7 434.9L968.3 439.1L969.0 443.2M973.1 469.4L973.7 473.1L974.3 476.9L974.8 480.6M978.0 502.8L978.7 506.9L979.3 511.1L980.1 515.2M986.7 546.1L987.5 548.1L988.7 549.8L990.6 550.4M1001.0 549.1L1004.4 549.9L1007.2 547.7L1009.3 544.7M1023.7 527.9L1026.5 525.9L1029.5 524.2L1032.7 522.7M1053.3 520.4L1056.7 521.2L1060.0 522.2L1063.3 523.4M1080.3 534.1L1082.9 537.3L1085.0 540.8L1086.9 544.4M1096.0 567.1L1097.3 571.0L1098.7 575.0L1099.9 578.9M1106.5 602.9L1107.5 607.0L1108.5 611.0L1109.4 615.1M1114.4 641.0L1115.4 645.0L1116.6 649.0L1118.0 652.9M1130.8 674.4L1134.0 676.9L1137.4 675.5L1139.0 671.6M1144.9 646.6L1145.6 642.9L1146.4 639.1L1147.1 635.4M1151.3 612.6L1152.1 608.8L1152.9 605.1L1153.7 601.3M1159.2 578.8L1160.3 575.2L1161.5 571.5L1162.8 567.9M1173.6 547.5L1175.8 544.3L1178.1 541.3L1180.6 538.3M1201.1 530.3L1204.5 531.9L1207.3 534.4L1209.4 537.5M1219.3 558.5L1221.0 561.6L1223.0 564.4L1225.3 567.0M1241.5 579.5L1244.6 581.7L1247.3 584.4L1249.6 587.3M1261.7 606.7L1263.3 610.1L1265.0 613.5L1266.6 616.9M1275.8 637.4L1277.3 641.1L1278.7 644.9L1280.2 648.6M1288.2 671.0L1289.4 675.0L1290.6 679.0L1291.6 683.1M1297.0 708.8L1297.7 712.9L1298.3 717.1L1298.9 721.2M1301.5 748.7L1301.8 752.9L1302.2 757.1L1302.5 761.3M1304.5 788.7L1304.8 792.9L1305.2 797.1L1305.5 801.3M1307.6 826.7L1307.9 830.9L1308.1 835.1L1308.4 839.3M1309.6 864.7L1309.9 868.9L1310.1 873.1L1310.4 877.3M1312.6 904.0L1312.8 907.3L1313.2 910.7L1313.5 914.0M1317.6 926.1L1318.1 922.8L1318.5 919.5L1318.9 916.2M1320.5 897.3L1320.8 893.1L1321.2 888.9L1321.5 884.7M1323.5 859.0L1323.8 855.0L1324.2 851.0L1324.6 847.0M1327.2 823.3L1327.7 819.1L1328.3 814.9L1328.8 810.7M1335.1 782.0L1337.0 779.9L1339.1 778.2L1341.6 777.0M1356.4 774.6L1360.3 773.9L1363.4 771.7L1365.8 768.6M1374.0 746.4L1375.2 742.7L1377.0 739.4L1379.5 736.5M1394.5 749.6L1396.1 753.1L1397.8 756.6L1399.4 760.0M1410.5 780.2L1412.8 783.5L1415.3 786.5L1418.1 789.2M1439.7 800.0L1442.7 801.8L1445.2 804.3L1447.5 806.9M1458.7 823.7L1460.9 827.2L1463.1 830.8L1465.3 834.4M1478.9 859.2L1480.8 861.9L1483.4 863.9L1486.4 865.1M1506.1 865.9L1509.4 866.0L1512.7 866.2L1516.0 866.5M1534.6 868.7L1538.4 869.9L1541.4 872.4L1543.7 875.6M1554.0 897.7L1555.3 901.2L1556.7 904.8L1558.1 908.3M1565.9 929.0L1567.3 933.0L1568.7 937.0L1570.0 941.0M1578.4 968.9L1579.5 973.0L1580.5 977.0L1581.5 981.1M1586.9 1006.8L1587.6 1010.9L1588.4 1015.1L1589.1 1019.2M1593.0 1044.8L1593.7 1048.9L1594.3 1053.1L1595.0 1057.2M1599.2 1082.8L1599.7 1086.9L1600.3 1091.1L1600.7 1095.3M1603.2 1120.5L1603.5 1124.7L1603.9 1128.9L1604.3 1133.1M1606.5 1158.4L1606.8 1162.6L1607.1 1166.8L1607.4 1171.0"/>
<path class="mea" stroke="#7A75A8" d="M232.3 1177.4L232.9 1173.3L233.4 1169.1L234.0 1164.9M238.2 1139.9L238.9 1135.8L239.7 1131.6L240.5 1127.5M246.0 1102.7L246.9 1098.6L247.7 1094.5L248.5 1090.4M251.7 1065.2L252.5 1061.0L253.5 1057.0L254.7 1052.9M263.8 1026.7L265.3 1022.9L266.7 1019.1L268.1 1015.3M277.6 992.0L279.2 988.7L280.8 985.3L282.5 982.0M293.3 962.6L295.2 959.4L297.2 956.3L299.2 953.2M312.7 935.3L314.9 932.4L317.1 929.6L319.4 926.7M332.8 910.2L335.0 906.8L337.0 903.2L338.8 899.6M347.7 876.9L349.2 873.0L350.8 869.1L352.3 865.1M361.9 840.6L363.3 836.9L364.7 833.1L366.0 829.4M373.6 806.6L375.0 802.9L376.3 799.1L377.7 795.4M386.6 773.1L388.1 769.4L389.7 765.8L391.2 762.1M401.3 739.9L403.1 736.6L404.9 733.4L406.8 730.2M419.1 711.4L421.3 708.4L423.6 705.5L426.0 702.6M442.5 686.9L444.9 684.3L447.1 681.6L449.2 678.9M460.9 661.5L462.9 658.5L465.1 655.5L467.2 652.6M480.4 634.7L482.7 632.2L485.3 629.9L488.3 628.0M508.0 624.5L512.0 624.8L516.0 625.3L519.9 626.1M544.9 627.7L548.3 627.3L551.7 626.7L555.0 625.8M574.9 619.6L578.3 619.1L581.7 619.1L585.2 619.5M604.8 625.6L608.2 626.7L611.8 627.1L615.3 626.8M636.7 623.6L640.2 623.2L643.8 622.8L647.3 622.6M669.0 621.5L672.3 621.2L675.7 620.8L679.0 620.2M699.3 616.6L702.4 616.7L705.5 617.5L708.3 619.0M722.5 631.5L724.8 633.9L727.2 636.1L729.5 638.5M744.3 651.7L747.0 653.5L749.8 655.2L752.6 656.9M769.2 665.0L772.6 667.4L775.0 670.8L776.4 674.8M784.0 703.7L785.2 706.0L787.1 707.6L789.7 707.6M801.2 700.2L803.2 696.8L804.7 693.2L805.9 689.4M812.2 666.6L813.2 662.8L814.3 659.0L815.4 655.3M822.3 632.1L823.4 628.7L824.6 625.3L825.9 622.0M837.2 602.3L839.0 600.1L841.0 597.9L843.1 595.9M856.5 584.6L858.7 582.7L861.0 580.9L863.2 579.0M876.2 569.1L878.8 566.4L881.0 563.5L882.7 560.2M891.7 537.5L893.1 535.7L895.1 534.6L897.3 534.7M907.0 539.5L909.2 543.0L910.6 547.0L911.7 551.1M916.9 576.8L917.6 580.9L918.4 585.1L919.1 589.2M923.3 614.7L923.8 618.9L924.2 623.1L924.5 627.3M925.8 652.7L925.9 656.9L926.1 661.1L926.2 665.3M927.1 691.4L927.2 695.6L927.4 699.8L927.5 704.0M928.3 730.2L928.4 734.4L928.6 738.6L928.7 742.8M929.6 768.9L929.8 773.1L930.4 773.4L930.7 769.2M931.8 743.1L932.1 738.9L932.4 734.7L932.7 730.5M934.8 704.5L935.1 700.3L935.5 696.1L935.8 691.9M938.3 665.9L938.7 661.7L939.2 657.5L939.6 653.3M943.1 627.4L943.6 623.3L944.0 619.1L944.3 614.9M945.6 588.8L945.8 584.6L945.9 580.4L946.1 576.2M946.9 550.0L947.0 545.8L947.2 541.6L947.3 537.4M948.4 511.3L948.6 507.1L948.8 502.9L949.1 498.7M951.2 472.7L951.7 468.5L952.2 464.3L952.7 460.2M956.4 434.3L957.0 430.1L957.6 426.0L958.2 421.8M962.2 396.0L962.8 391.8L963.5 387.7L964.1 383.5M968.8 357.8L969.6 353.7L970.5 349.6L971.5 345.5M977.7 320.1L978.8 316.0L980.0 312.0L981.3 308.0M992.0 284.1L994.0 280.5L996.2 276.9L998.7 273.5M1020.3 274.4L1022.8 277.4L1025.1 280.6L1027.2 284.0M1037.9 305.1L1039.3 309.0L1040.7 313.0L1042.0 317.0M1050.3 343.1L1051.5 347.0L1052.5 351.0L1053.5 354.9M1058.7 378.8L1059.6 382.9L1060.4 387.1L1061.3 391.2M1066.9 418.8L1067.6 422.9L1068.4 427.1L1069.1 431.2M1073.0 457.0L1073.7 461.0L1074.4 465.0L1075.1 469.0M1079.8 493.0L1080.6 497.0L1081.4 501.0L1082.1 505.0M1086.7 528.8L1087.5 533.0L1088.5 537.0L1089.5 541.1M1096.4 566.9L1097.5 571.0L1098.5 575.0L1099.6 579.1M1106.6 604.9L1107.5 609.0L1108.4 613.1L1109.3 617.2M1113.8 643.0L1114.6 647.0L1115.4 651.0L1116.2 655.0M1121.6 679.6L1122.5 683.2L1123.5 686.8L1124.6 690.4M1134.5 711.1L1136.7 713.8L1139.4 716.0L1142.5 717.7M1163.3 723.7L1166.4 724.5L1169.6 725.5L1172.7 726.5M1189.1 736.7L1191.2 739.5L1192.7 742.6L1194.0 745.8M1199.4 764.9L1200.5 769.0L1201.5 773.0L1202.6 777.1M1212.2 811.7L1213.4 815.2L1214.5 818.8L1215.5 822.4M1222.0 845.8L1223.3 848.0L1224.8 850.0L1226.3 852.0M1237.1 853.6L1239.9 850.7L1242.0 847.2L1243.5 843.5M1251.3 820.2L1252.9 816.6L1255.8 814.4L1258.5 817.1M1266.6 839.1L1267.6 843.0L1268.4 847.0L1269.1 850.9M1272.3 874.7L1272.7 878.9L1273.3 883.1L1273.7 887.3M1276.4 912.7L1276.8 916.9L1277.2 921.1L1277.6 925.3M1279.6 950.7L1279.9 954.9L1280.1 959.1L1280.4 963.3M1281.7 988.7L1281.9 992.9L1282.1 997.1L1282.3 1001.3M1283.7 1026.7L1283.9 1030.9L1284.1 1035.1L1284.2 1039.3M1284.9 1068.0L1285.0 1071.3L1285.0 1074.7L1285.2 1078.0M1285.8 1096.7L1285.9 1100.9L1286.1 1105.1L1286.2 1109.3M1286.9 1136.7L1287.0 1140.9L1287.1 1145.1L1287.2 1149.3M1287.9 1176.7L1288.0 1180.9L1288.1 1185.1L1288.2 1189.3M1292.9 1183.3L1293.0 1179.1L1293.2 1174.9L1293.3 1170.7M1294.0 1143.3L1294.1 1139.1L1294.1 1134.9L1294.2 1130.7M1294.8 1103.3L1294.9 1099.1L1295.1 1094.9L1295.1 1090.7M1295.7 1065.3L1295.9 1061.1L1296.1 1056.9L1296.4 1052.7M1298.5 1027.3L1298.8 1023.1L1299.2 1018.9L1299.5 1014.7M1301.4 989.3L1301.8 985.1L1302.2 980.9L1302.7 976.7M1306.0 951.2L1306.6 947.1L1307.4 942.9L1308.2 938.8M1316.5 910.3L1318.0 908.0L1320.1 906.2L1322.7 905.1M1339.0 909.0L1341.0 910.3L1343.0 911.7L1344.8 913.3M1353.5 921.2L1357.0 923.4L1360.2 921.3L1361.5 917.3M1365.3 891.0L1365.8 887.0L1366.2 883.0L1366.7 879.0M1369.4 854.3L1369.8 850.8L1370.2 847.2L1370.6 843.7M1373.1 823.2L1373.7 819.1L1374.3 814.9L1375.0 810.8M1380.8 779.0L1381.6 775.0L1382.4 771.0L1383.2 767.0M1388.4 742.8L1389.4 738.9L1390.6 735.1L1392.0 731.3M1406.3 713.1L1409.7 715.3L1412.3 718.3L1414.4 721.8M1423.3 744.5L1424.5 748.3L1425.7 752.2L1426.9 756.1M1433.0 779.7L1434.0 783.6L1434.9 787.6L1435.8 791.5M1441.2 815.3L1442.1 819.3L1443.0 823.2L1443.8 827.2M1449.0 851.7L1449.7 855.2L1450.3 858.8L1450.9 862.3M1453.9 882.8L1454.6 886.9L1455.4 891.1L1456.2 895.2M1461.9 923.0L1462.6 925.7L1463.4 928.3L1464.3 930.9M1473.2 943.4L1476.2 945.1L1479.6 944.2L1482.2 941.8M1496.2 924.9L1498.6 922.7L1501.6 921.7L1504.7 922.3M1518.5 933.9L1520.9 937.3L1523.1 940.8L1525.1 944.4M1535.8 967.5L1537.3 971.1L1538.7 974.9L1540.1 978.6M1548.1 1001.0L1549.4 1005.0L1550.6 1009.0L1551.8 1013.0M1558.4 1039.0L1559.5 1043.0L1560.5 1047.0L1561.7 1051.0M1568.5 1074.9L1569.5 1079.0L1570.5 1083.1L1571.3 1087.2M1575.9 1113.8L1576.6 1117.9L1577.4 1122.1L1578.1 1126.2M1583.0 1151.8L1583.7 1155.9L1584.3 1160.1L1585.0 1164.2M1588.6 1189.4L1589.1 1193.5L1589.7 1197.7L1590.3 1201.9"/>
<path class="mea" stroke="#8B5A5C" d="M229.7 1182.3L230.2 1178.7L230.8 1175.1L231.4 1171.5M235.9 1150.9L237.0 1146.9L238.1 1142.8L239.1 1138.8M245.7 1110.3L246.7 1106.2L247.7 1102.1L248.8 1098.1M256.3 1072.7L257.4 1068.9L258.6 1065.1L259.8 1061.3M267.1 1038.7L268.4 1034.9L269.6 1031.1L270.9 1027.3M278.9 1004.9L280.3 1001.0L281.7 997.0L283.1 993.0M291.9 967.0L293.3 963.0L294.7 959.0L296.1 955.1M304.9 930.7L306.3 926.9L307.7 923.1L309.1 919.3M317.5 896.8L319.2 892.9L320.9 889.1L322.6 885.3M335.7 859.6L337.2 856.5L338.8 853.5L340.3 850.4M349.4 832.1L351.1 828.7L352.9 825.3L354.6 821.9M365.1 801.6L367.0 798.2L368.8 794.9L370.7 791.6M384.2 773.3L386.8 770.5L389.1 767.4L391.1 764.1M402.6 743.4L404.8 740.4L407.4 737.7L410.3 735.5M431.3 726.7L434.5 725.7L437.5 724.2L440.3 722.5M454.6 709.4L456.9 706.5L459.0 703.5L461.0 700.3M472.8 679.9L474.8 677.8L477.4 676.5L480.2 676.2M495.7 681.9L498.6 683.9L501.3 686.1L503.8 688.6M518.5 702.7L522.0 704.7L525.9 704.4L529.1 701.8M541.7 679.8L543.2 676.6L544.8 673.4L546.5 670.2M557.1 650.7L558.9 648.2L561.2 645.9L563.7 644.0M580.4 637.0L584.2 636.7L587.7 637.8L590.5 640.3M601.9 659.1L603.3 663.0L604.6 667.0L605.8 671.0M612.6 698.2L613.5 701.4L614.5 704.6L615.7 707.7M624.9 724.2L628.0 727.0L631.5 725.6L633.7 722.0M643.9 695.8L645.2 692.6L646.8 689.5L648.7 686.5M663.2 673.1L666.6 670.6L669.2 667.3L671.2 663.6M680.3 639.1L681.4 635.0L682.6 631.0L683.6 626.9M690.4 600.1L691.5 596.7L692.6 593.3L693.7 589.9M701.3 569.9L703.0 566.6L705.1 563.5L707.6 560.7M730.5 552.1L732.8 551.4L735.1 550.5L737.4 549.5M749.1 543.3L752.3 541.7L755.7 540.4L759.1 539.3M780.6 535.7L784.2 535.3L787.8 534.7L791.3 534.0M811.8 530.3L816.0 530.3L819.7 532.3L822.1 535.7M832.3 561.1L833.4 565.0L834.5 569.0L835.4 573.0M840.7 599.1L841.5 601.7L842.5 604.3L843.9 606.7M856.6 614.0L860.4 614.0L863.2 611.5L865.0 608.0M873.6 584.9L875.0 582.2L877.2 580.0L879.9 578.5M898.5 578.2L901.0 579.9L902.8 582.2L904.2 584.9M909.3 602.4L910.1 605.3L911.0 608.2L911.8 611.1M916.3 627.5L917.4 631.2L918.6 634.8L919.8 638.4M928.0 659.3L930.1 662.8L933.1 661.3L934.6 657.3M942.3 628.3L943.4 624.8L944.7 621.3L946.1 617.8M958.2 598.9L960.7 596.3L963.3 593.7L966.0 591.3M984.1 577.6L986.7 575.8L989.3 574.2L992.0 572.6M1008.7 563.6L1011.5 562.2L1014.3 560.8L1017.1 559.4M1033.2 553.0L1036.6 550.6L1039.0 547.2L1040.3 543.2M1046.7 514.0L1047.6 510.7L1048.4 507.3L1049.4 504.0M1054.6 485.1L1055.6 481.1L1056.4 476.9L1057.2 472.8M1061.1 447.2L1061.7 443.1L1062.3 438.9L1062.9 434.8M1067.0 407.0L1067.7 403.0L1068.3 399.0L1069.1 395.0M1073.7 370.9L1074.5 366.9L1075.3 363.0L1076.2 359.0M1081.7 335.1L1082.7 331.2L1083.8 327.3L1084.9 323.4M1094.0 300.6L1095.8 297.0L1097.8 293.4L1099.8 289.9M1116.7 272.7L1120.5 271.3L1124.5 270.8L1128.4 272.0M1145.2 289.6L1147.1 293.2L1148.9 296.8L1150.5 300.5M1159.8 323.1L1161.3 327.0L1162.7 331.0L1164.2 334.9M1172.3 358.9L1173.5 363.0L1174.5 367.0L1175.5 371.1M1180.8 398.8L1181.6 402.9L1182.4 407.1L1183.2 411.2M1188.0 437.1L1188.7 441.0L1189.3 445.0L1189.9 449.0M1193.3 473.7L1193.8 477.2L1194.2 480.8L1194.7 484.3M1197.2 504.7L1197.7 508.9L1198.3 513.1L1198.8 517.3M1202.6 550.8L1202.9 554.9L1203.3 559.0L1203.7 563.1M1205.8 587.9L1206.2 592.0L1206.6 596.0L1206.9 600.1M1209.3 624.7L1209.8 628.9L1210.2 633.1L1210.8 637.3M1214.3 662.7L1214.8 666.9L1215.2 671.1L1215.6 675.3M1217.6 703.0L1217.8 707.0L1218.2 711.0L1218.5 715.0M1220.5 738.7L1220.8 742.9L1221.2 747.1L1221.5 751.3M1223.6 779.3L1223.9 781.8L1224.1 784.2L1224.5 786.7M1228.4 798.3L1230.5 795.0L1231.4 790.9L1232.1 786.8M1235.3 761.3L1235.8 757.1L1236.2 752.9L1236.7 748.7M1239.2 723.3L1239.7 719.1L1240.3 714.9L1240.8 710.8M1244.9 683.8L1245.6 680.6L1246.4 677.4L1247.4 674.3M1258.5 657.0L1260.8 655.6L1263.2 654.4L1265.8 653.5M1282.4 652.4L1284.8 652.8L1287.2 653.2L1289.6 653.7M1300.9 657.6L1303.2 661.0L1304.6 665.0L1305.7 669.1M1311.0 696.8L1311.7 700.9L1312.3 705.1L1313.0 709.2M1316.3 734.7L1316.8 738.9L1317.2 743.1L1317.6 747.3M1319.5 774.7L1319.8 778.9L1320.2 783.1L1320.6 787.3M1323.5 812.9L1323.8 817.0L1324.2 821.0L1324.4 825.1M1325.7 851.2L1325.9 854.4L1326.1 857.6L1326.5 860.8M1329.9 878.1L1332.4 877.0L1333.4 872.9L1334.1 868.8M1337.2 843.3L1337.7 839.1L1338.3 834.9L1338.8 830.8M1342.1 805.0L1342.7 801.0L1343.3 797.0L1344.0 793.0M1348.6 768.5L1349.5 764.8L1350.5 761.2L1351.7 757.6M1362.8 737.7L1365.0 734.6L1366.9 731.4L1368.7 728.1M1378.5 708.2L1380.7 704.6L1383.6 701.6L1387.2 699.4M1417.0 710.0L1419.1 713.3L1420.8 716.8L1422.1 720.5M1427.7 742.8L1428.5 746.9L1429.4 751.1L1430.3 755.2M1435.0 780.8L1435.7 784.9L1436.3 789.1L1437.0 793.2M1441.1 822.8L1441.7 826.9L1442.3 831.1L1442.9 835.2M1446.2 860.7L1446.7 864.9L1447.3 869.1L1447.8 873.3M1451.2 902.8L1451.7 906.9L1452.3 911.1L1452.9 915.2M1459.8 953.5L1460.9 956.1L1463.4 956.8L1465.6 955.0M1476.9 942.1L1478.9 940.0L1481.1 938.1L1483.5 936.4M1498.3 930.2L1502.2 930.3L1505.5 932.2L1508.1 935.2M1519.5 955.2L1521.2 959.1L1522.8 963.0L1524.1 966.9M1531.6 992.7L1532.8 996.7L1533.9 1000.7L1535.1 1004.7M1542.3 1028.9L1543.5 1033.0L1544.5 1037.0L1545.6 1041.1M1551.8 1068.0L1552.6 1071.3L1553.4 1074.7L1554.2 1078.0M1558.8 1096.8L1559.6 1100.9L1560.4 1105.1L1561.0 1109.2M1564.5 1134.4L1565.0 1138.6L1565.5 1142.7L1566.0 1146.9M1568.8 1172.1L1569.2 1176.3L1569.6 1180.5L1570.0 1184.7"/>
<path class="mea" stroke="#28785A" d="M246.0 1166.2L246.7 1162.1L247.3 1157.9L247.7 1153.7M249.5 1128.3L249.8 1124.1L250.2 1119.9L250.5 1115.7M252.4 1090.3L252.8 1086.1L253.2 1081.9L253.7 1077.7M257.1 1052.2L257.7 1048.1L258.3 1043.9L258.9 1039.8M263.0 1013.2L263.7 1009.1L264.3 1004.9L264.9 1000.8M268.9 975.0L269.6 971.0L270.4 967.0L271.3 963.0M277.3 938.8L278.4 934.9L279.6 931.1L280.8 927.2M289.6 904.0L291.2 900.7L292.8 897.4L294.6 894.1M306.6 875.1L308.8 872.3L311.2 869.7L314.0 867.5M332.7 859.3L336.4 857.6L339.7 855.3L342.3 852.3M353.1 830.0L354.2 826.5L355.4 822.9L356.5 819.4M364.2 799.0L365.5 795.0L366.5 791.0L367.4 786.9M372.8 759.2L373.6 755.1L374.4 750.9L375.3 746.8M380.7 721.2L381.6 717.1L382.4 712.9L383.3 708.8M388.6 682.7L389.5 678.9L390.5 675.1L391.5 671.3M398.0 648.8L399.3 644.9L400.7 641.1L402.1 637.3M411.5 614.7L413.2 610.9L414.8 607.1L416.6 603.3M427.5 580.6L429.2 576.9L430.8 573.1L432.5 569.4M442.0 546.8L443.4 543.0L444.6 539.0L445.7 535.1M451.1 510.8L452.1 506.8L453.0 502.8L454.0 498.9M460.3 475.0L461.4 471.0L462.6 467.0L463.7 463.0M471.2 438.7L472.4 434.9L473.6 431.1L474.8 427.3M482.1 404.3L483.5 400.5L485.1 396.8L486.8 393.1M499.2 371.7L501.2 368.3L503.2 364.9L505.3 361.5M517.9 340.6L519.8 337.3L521.7 334.0L523.4 330.6M534.7 310.1L536.9 307.4L539.3 304.9L542.0 302.7M561.2 296.2L564.6 296.9L568.0 298.1L571.2 299.6M588.0 311.8L590.7 314.5L593.2 317.5L595.5 320.7M606.1 340.9L607.7 344.8L609.3 348.7L610.7 352.6M619.1 378.4L620.3 382.4L621.4 386.4L622.4 390.3M628.6 414.5L629.6 418.5L630.6 422.4L631.6 426.4M637.5 450.4L638.4 454.5L639.4 458.6L640.3 462.7M645.8 488.2L646.6 492.1L647.4 495.9L648.2 499.8M652.9 522.8L653.7 526.9L654.3 531.1L654.9 535.2M658.3 563.0L658.7 567.0L659.3 571.0L659.8 575.0M663.2 598.8L663.7 602.9L664.2 607.1L664.7 611.3M667.3 637.4L667.8 641.1L668.3 644.9L668.9 648.6M678.3 648.5L679.0 644.8L679.6 641.1L680.2 637.3M683.0 615.2L683.7 611.1L684.4 606.9L685.1 602.8M690.7 574.3L691.5 570.8L692.5 567.2L693.6 563.7M706.1 544.4L708.6 543.4L711.4 542.8L714.2 542.8M727.7 548.4L730.7 551.3L733.2 554.7L735.2 558.4M744.5 587.0L745.5 591.0L746.5 595.0L747.5 599.0M753.6 623.1L754.6 627.0L755.4 631.0L756.3 634.9M760.8 658.8L761.6 662.9L762.4 667.1L763.3 671.2M768.7 697.0L769.5 701.0L770.5 705.0L771.4 709.0M777.5 733.0L778.5 737.0L779.5 741.1L780.4 745.2M792.8 746.5L794.0 742.7L795.1 738.8L796.0 734.9M800.8 711.2L801.6 707.1L802.4 702.9L803.3 698.8M808.7 672.5L809.5 668.8L810.5 665.2L811.4 661.5M819.6 640.1L822.2 637.3L825.6 637.9L828.0 640.9M838.1 661.2L839.4 665.0L840.6 669.0L841.6 672.9M846.8 697.1L847.6 701.0L848.4 705.0L849.1 708.9M853.1 732.8L853.7 736.9L854.3 741.1L854.8 745.3M857.4 772.7L857.8 776.9L858.2 781.1L858.6 785.3M861.5 815.3L861.8 819.1L862.2 822.9L862.4 826.7M864.1 851.5L864.4 853.9L864.7 856.3L865.0 858.7M869.1 854.5L869.5 850.7L869.8 847.0L870.1 843.3M871.6 821.3L871.8 817.1L872.2 812.9L872.5 808.7M875.6 774.6L875.9 770.9L876.1 767.1L876.2 763.4M876.8 741.3L876.9 737.1L877.1 732.9L877.3 728.7M879.4 699.0L879.8 695.0L880.2 691.0L880.8 687.0M884.8 663.2L885.6 659.1L886.4 654.9L887.1 650.8M892.7 621.3L893.5 618.4L894.5 615.6L895.7 612.8M908.9 602.4L912.3 602.8L915.7 603.3L919.0 604.1M938.6 608.1L942.3 607.7L945.6 606.0L948.2 603.4M959.4 584.8L961.2 580.9L962.8 577.1L964.3 573.1M975.4 546.9L976.7 544.9L978.1 542.9L979.6 541.2M990.8 538.3L994.4 539.8L997.3 542.5L999.5 545.8M1009.6 567.4L1011.2 571.1L1012.8 574.9L1014.4 578.6M1023.8 601.4L1025.3 605.1L1026.7 608.9L1028.1 612.6M1036.2 636.4L1037.4 639.5L1038.7 642.5L1040.1 645.5M1050.9 661.3L1054.1 663.3L1057.4 661.7L1059.4 658.5M1066.6 637.1L1067.5 633.0L1068.5 628.9L1069.3 624.8M1074.6 598.9L1075.5 595.0L1076.5 591.1L1077.6 587.2M1087.3 563.8L1089.3 561.1L1091.9 559.0L1095.2 558.7M1111.1 570.9L1113.8 572.9L1116.9 574.3L1120.1 575.3M1139.6 576.3L1143.4 576.2L1146.9 577.6L1149.5 580.4M1158.2 601.5L1159.4 605.2L1160.6 608.8L1161.8 612.5M1169.9 634.3L1171.6 637.7L1173.6 641.0L1176.7 643.1M1189.6 623.6L1191.1 620.5L1192.9 617.5L1194.8 614.6M1208.3 598.3L1210.7 596.1L1213.3 594.0L1216.0 592.0M1232.6 579.9L1234.8 577.9L1237.1 575.9L1239.2 573.8M1250.7 561.2L1254.3 560.5L1257.6 561.9L1260.2 564.4M1269.8 583.3L1271.2 587.1L1272.7 590.9L1274.2 594.7M1283.9 618.4L1285.5 621.5L1287.5 624.3L1289.9 626.8M1305.8 618.1L1307.0 614.9L1308.0 611.6L1309.0 608.2M1314.7 588.6L1315.6 584.9L1316.4 581.1L1317.1 577.4M1320.8 555.2L1321.6 551.1L1322.4 546.9L1323.3 542.8M1331.6 514.7L1333.1 512.2L1335.0 509.9L1337.3 508.0M1353.0 504.4L1356.4 505.9L1359.4 508.3L1361.5 511.4M1371.7 531.2L1373.2 535.0L1374.7 539.0L1376.2 542.9M1384.3 567.1L1385.4 571.0L1386.5 575.0L1387.6 578.9M1392.9 602.8L1393.6 606.9L1394.4 611.1L1395.0 615.2M1398.3 640.7L1398.8 644.9L1399.2 649.1L1399.7 653.3M1402.4 678.7L1402.8 682.9L1403.2 687.1L1403.5 691.3M1405.5 716.9L1405.7 721.0L1406.0 725.2L1406.3 729.4M1407.5 754.6L1407.7 758.8L1407.9 763.0L1408.1 767.2M1409.7 794.7L1409.9 798.9L1410.1 803.1L1410.3 807.3M1411.7 832.7L1411.9 836.9L1412.1 841.1L1412.3 845.3M1413.7 870.7L1413.9 874.9L1414.1 879.1L1414.3 883.3M1415.7 908.7L1415.9 912.9L1416.1 917.1L1416.2 921.3M1416.9 947.0L1417.0 951.0L1417.0 955.0L1417.1 959.0M1417.6 983.3L1417.7 987.1L1417.8 990.9L1417.9 994.7M1418.5 1017.6L1419.0 1019.8L1419.4 1016.1L1419.7 1012.3M1420.8 989.4L1420.9 985.6L1421.0 981.9L1421.0 978.1M1421.3 955.2L1421.4 951.4L1421.4 947.6L1421.4 943.8M1421.6 920.9L1421.6 917.1L1421.6 913.4L1421.6 909.6M1421.9 887.3L1422.0 883.1L1422.0 878.9L1422.2 874.7M1423.6 849.3L1423.9 845.1L1424.1 840.9L1424.3 836.7M1425.4 811.3L1425.6 807.1L1425.8 802.9L1426.0 798.7M1427.3 773.3L1427.5 769.1L1427.7 764.9L1428.0 760.7M1429.6 735.3L1429.8 731.1L1430.2 726.9L1430.5 722.7M1432.5 697.3L1432.8 693.1L1433.2 688.9L1433.5 684.7M1436.2 657.1L1436.7 653.0L1437.3 649.0L1437.9 644.9M1442.3 620.1L1443.1 616.5L1444.0 612.9L1445.1 609.3M1459.2 591.6L1462.3 590.2L1465.6 590.5L1468.4 592.5M1479.9 611.9L1480.7 613.9L1481.5 615.9L1482.4 617.8M1486.2 627.7L1487.4 631.2L1488.6 634.8L1489.7 638.3M1496.1 659.0L1497.4 663.0L1498.6 667.0L1499.9 671.0M1508.1 697.0L1509.4 701.0L1510.6 705.0L1511.9 709.0M1519.9 733.3L1521.3 737.1L1522.7 740.9L1524.1 744.7M1533.5 767.9L1535.2 771.3L1536.9 774.7L1538.8 778.0M1553.3 794.7L1556.1 797.8L1558.2 801.5L1560.0 805.3M1569.9 831.1L1571.3 835.0L1572.7 839.0L1574.1 842.9M1582.2 867.1L1583.4 871.0L1584.6 875.0L1585.8 878.9M1592.5 902.9L1593.5 907.0L1594.5 911.0L1595.5 915.1M1600.9 941.1L1601.6 945.0L1602.3 949.0L1603.0 952.9M1606.1 976.8L1606.7 980.9L1607.3 985.1L1608.0 989.2M1612.1 1014.3L1612.4 1016.2L1612.7 1018.1L1613.0 1020.0"/>
<path class="mea" stroke="#E6507D" d="M222.9 1185.3L223.0 1181.8L223.0 1178.2L223.1 1174.7M223.7 1154.3L223.9 1150.1L224.1 1145.9L224.3 1141.7M225.5 1116.3L225.8 1112.1L226.2 1107.9L226.6 1103.7M229.4 1078.3L229.8 1074.1L230.2 1069.9L230.5 1065.7M232.3 1040.2L232.8 1036.1L233.3 1031.9L233.8 1027.8M237.9 1003.2L238.6 999.1L239.4 994.9L240.1 990.8M244.7 965.2L245.5 961.1L246.5 957.0L247.4 952.9M254.1 927.0L255.4 923.0L256.7 919.0L258.0 915.0M267.5 889.9L269.1 886.6L271.0 883.4L273.1 880.4M292.7 874.9L295.0 877.5L296.9 880.5L298.3 883.7M304.3 902.9L305.4 907.0L306.6 911.0L307.7 915.1M314.7 942.8L315.6 946.9L316.4 951.1L317.1 955.2M321.1 982.8L321.7 986.9L322.3 991.1L323.0 995.2M327.0 1021.3L327.7 1025.1L328.4 1028.9L329.0 1032.7M335.0 1019.2L335.7 1015.1L336.3 1010.9L336.8 1006.8M339.4 981.3L339.8 977.1L340.2 972.9L340.6 968.7M343.3 941.0L343.8 937.0L344.2 933.0L344.7 929.0M348.1 905.2L348.7 901.1L349.3 896.9L349.8 892.7M353.1 865.2L353.7 861.1L354.3 856.9L355.0 852.8M360.5 825.1L361.5 821.0L362.5 817.0L363.6 812.9M380.6 789.9L383.3 793.1L385.6 796.6L387.6 800.3M397.0 832.8L397.7 836.9L398.3 841.1L398.8 845.3M401.4 870.7L401.8 874.9L402.2 879.1L402.7 883.3M405.4 908.7L405.8 912.9L406.2 917.1L406.5 921.3M408.4 946.7L408.8 950.9L409.2 955.1L409.7 959.3M413.0 985.1L413.6 989.2L414.2 993.4L416.2 993.2M420.5 959.3L420.8 955.1L421.1 950.9L421.4 946.7M422.6 921.3L422.9 917.1L423.1 912.9L423.4 908.7M425.4 883.3L425.8 879.1L426.2 874.9L426.7 870.7M430.1 845.0L430.7 841.0L431.3 837.0L432.0 833.0M436.5 808.3L437.5 804.8L438.6 801.3L440.2 797.9M454.6 782.3L457.0 778.9L458.9 775.1L460.5 771.2M468.4 747.1L469.5 743.0L470.5 739.0L471.4 734.9M476.8 705.0L477.6 701.0L478.4 697.0L479.2 693.0M484.5 668.7L485.5 664.9L486.5 661.1L487.6 657.3M496.6 634.3L498.6 631.8L501.5 630.5L504.7 630.3M520.9 638.4L524.2 640.4L527.9 641.0L531.5 639.7M543.8 620.8L545.3 616.9L546.7 613.0L547.9 609.1M554.6 584.6L555.5 580.9L556.5 577.1L557.4 573.4M562.6 551.0L563.5 547.0L564.4 543.0L565.3 539.0M570.6 515.0L571.5 511.0L572.5 507.0L573.5 503.0M580.3 479.0L581.4 475.0L582.6 471.0L583.8 467.0M591.1 443.0L592.4 439.0L593.6 435.0L594.9 431.0M603.0 405.0L604.3 401.0L605.7 397.0L607.0 393.0M615.8 368.7L617.3 364.9L618.7 361.1L620.2 357.3M629.9 333.8L631.3 330.6L632.7 327.4L634.1 324.2M644.1 303.8L645.3 301.9L646.7 300.1L648.1 298.4M656.3 291.6L660.0 289.7L664.0 288.5L668.2 288.4M685.8 317.5L687.3 321.2L688.7 324.8L690.2 328.6M698.1 351.0L699.4 355.0L700.6 359.0L701.8 363.0M708.5 388.9L709.5 393.0L710.5 397.0L711.5 401.1M717.7 427.1L718.6 431.0L719.4 435.0L720.3 438.9M724.9 462.8L725.6 466.9L726.4 471.1L727.1 475.2M732.1 503.4L732.7 507.1L733.3 510.9L733.9 514.6M737.0 537.0L737.6 541.0L738.4 545.0L739.1 549.0M744.8 575.3L745.6 577.8L746.5 580.2L747.5 582.6M759.5 587.0L762.5 585.6L765.6 584.5L768.7 583.4M788.4 576.5L790.8 575.5L793.2 574.4L795.4 573.1M807.0 566.7L811.1 565.7L814.7 567.6L817.2 571.0M827.6 594.8L828.9 598.8L830.2 602.8L831.4 606.8M838.3 631.9L839.3 636.0L840.2 640.1L841.1 644.2M845.7 669.8L846.3 673.9L846.9 678.1L847.4 682.3M850.5 708.1L851.0 712.2L851.6 716.4L852.1 720.6M855.3 746.4L855.9 750.6L856.5 754.7L857.1 758.9M865.1 782.9L866.9 779.2L867.8 775.1L868.5 771.0M871.4 745.1L871.7 740.9L872.0 736.7L872.3 732.6M874.5 706.6L874.9 702.5L875.5 698.3L876.0 694.1M880.2 668.4L880.9 664.3L881.8 660.2L882.7 656.1M889.1 630.9L890.2 626.8L891.3 622.8L892.4 618.7M905.5 597.5L909.6 597.3L913.2 599.3L916.0 602.4M928.4 625.2L930.1 629.1L931.7 633.0L933.3 636.9M948.5 657.1L952.5 656.4L955.2 653.3L957.0 649.5M964.3 625.0L965.4 621.0L966.6 617.0L967.7 613.0M974.0 589.0L975.3 585.0L976.7 581.0L978.3 577.1M1000.6 559.9L1004.7 559.6L1008.9 559.6L1013.1 559.8M1043.6 563.5L1046.8 565.6L1049.0 568.6L1050.8 571.9M1057.9 593.0L1059.3 597.0L1060.7 601.0L1062.2 604.9M1073.2 633.6L1074.7 636.2L1077.5 637.0L1080.1 635.4M1092.6 621.7L1094.7 619.6L1097.5 618.9L1100.2 619.9M1111.0 632.6L1112.9 635.6L1115.2 638.3L1117.6 640.9M1135.9 652.6L1138.7 654.1L1141.2 656.0L1143.5 658.3M1155.2 672.0L1158.0 675.0L1161.6 673.8L1164.1 670.5M1175.6 647.6L1177.2 644.5L1178.9 641.5L1180.6 638.5M1193.2 621.9L1195.9 619.8L1198.8 617.8L1201.8 616.1M1221.0 613.4L1224.6 615.4L1227.2 618.7L1229.2 622.4M1238.0 646.4L1239.1 650.5L1240.2 654.5L1241.2 658.6M1250.8 684.5L1252.8 686.4L1255.3 687.0L1257.6 685.4M1266.4 674.2L1268.8 670.7L1271.3 667.3L1273.8 664.0M1292.2 637.1L1294.4 633.5L1296.6 630.0L1299.0 626.5M1322.1 602.2L1324.8 600.2L1327.1 597.7L1329.1 595.0M1340.9 579.5L1344.1 577.2L1347.6 578.0L1349.9 581.2M1358.2 603.0L1359.4 607.0L1360.6 611.0L1361.9 615.0M1370.9 642.4L1372.3 646.4L1373.8 650.3L1375.3 654.2M1389.9 680.4L1391.4 683.4L1392.5 686.6L1393.4 689.9M1396.9 709.6L1397.6 713.2L1398.4 716.8L1399.3 720.3M1404.7 740.8L1405.6 744.9L1406.4 749.1L1407.2 753.2M1411.4 778.7L1411.8 782.9L1412.1 787.1L1412.3 791.3M1411.8 816.7L1411.9 820.9L1412.1 825.1L1412.4 829.3M1415.5 858.7L1415.8 862.9L1416.1 867.1L1416.4 871.3M1417.7 898.7L1417.9 902.9L1418.1 907.1L1418.3 911.3M1419.7 936.7L1419.9 940.9L1420.1 945.1L1420.3 949.3M1421.7 976.7L1421.9 980.9L1422.1 985.1L1422.2 989.3M1422.8 1014.7L1422.9 1018.9L1423.1 1023.1L1423.3 1027.3M1424.7 1055.0L1424.9 1059.0L1425.1 1063.0L1425.2 1067.0M1425.8 1091.0L1425.9 1095.0L1426.1 1099.0L1426.2 1103.0M1426.9 1127.1L1427.0 1131.1L1427.2 1135.0L1427.3 1139.0M1429.3 1141.0L1429.6 1137.1L1429.8 1133.1L1430.0 1129.1M1430.8 1105.0L1430.9 1101.0L1431.0 1097.1L1431.1 1093.1M1431.9 1069.3L1432.0 1065.1L1432.0 1060.9L1432.0 1056.7M1432.0 1031.3L1432.0 1027.1L1432.0 1022.9L1432.1 1018.7M1432.8 993.3L1432.9 989.1L1433.1 984.9L1433.3 980.7M1434.7 955.3L1434.9 951.1L1435.1 946.9L1435.3 942.7M1436.6 917.3L1436.9 913.1L1437.1 908.9L1437.4 904.7M1439.5 879.0L1439.8 875.0L1440.2 871.0L1440.6 867.0M1443.1 843.2L1443.7 839.1L1444.3 834.9L1445.0 830.8M1450.5 801.7L1451.5 798.5L1452.6 795.5L1454.1 792.6M1468.6 789.4L1470.2 792.2L1471.7 795.1L1473.1 798.1M1479.9 815.1L1481.3 819.0L1482.7 823.0L1484.1 826.9M1494.3 855.2L1495.4 857.8L1496.6 860.2L1498.0 862.6M1511.1 871.0L1514.4 871.2L1517.6 870.7L1520.8 869.7M1538.9 861.9L1542.2 861.0L1545.7 861.5L1548.5 863.5M1561.1 879.6L1563.1 883.2L1564.9 886.8L1566.6 890.5M1576.0 913.0L1577.3 917.0L1578.6 921.0L1579.8 925.0M1585.7 950.8L1586.6 954.9L1587.4 959.1L1588.3 963.2M1592.9 988.8L1593.6 992.9L1594.4 997.1L1595.1 1001.2M1599.1 1026.8L1599.7 1030.9L1600.3 1035.1L1600.8 1039.3M1603.5 1065.7L1603.8 1069.2L1604.2 1072.8L1604.5 1076.3M1606.5 1096.7L1606.8 1100.9L1607.2 1105.1L1607.4 1109.3M1609.1 1134.6L1609.4 1138.8L1609.7 1143.0L1609.9 1147.2M1611.5 1172.6L1611.7 1175.0L1611.8 1177.5L1612.0 1180.0"/>
<path class="mea" stroke="#666C46" d="M226.2 1166.3L226.8 1162.1L227.2 1157.9L227.7 1153.7M230.3 1128.3L230.8 1124.1L231.2 1119.9L231.7 1115.7M235.1 1090.2L235.7 1086.1L236.3 1081.9L237.0 1077.8M241.6 1051.7L242.5 1047.9L243.5 1044.1L244.5 1040.3M251.9 1016.9L253.5 1013.9L255.5 1011.1L258.3 1009.1M279.9 1008.9L282.6 1009.1L285.3 1008.8L288.0 1008.2M301.0 1002.8L304.6 1000.5L307.2 997.3L309.0 993.5M316.2 969.0L317.4 965.0L318.6 961.0L319.9 957.0M328.1 931.9L329.3 928.6L330.7 925.4L332.1 922.2M344.6 906.1L348.1 904.9L351.7 905.8L354.3 908.5M362.6 928.9L363.5 933.0L364.5 937.1L365.3 941.2M370.0 966.8L370.7 970.9L371.3 975.1L371.9 979.2M375.3 1006.9L375.8 1011.0L376.2 1015.0L376.6 1019.1M378.4 1043.7L378.8 1047.9L379.2 1052.1L379.7 1056.3M383.5 1086.9L383.8 1089.0L384.2 1091.0L384.5 1093.1M388.1 1101.7L389.7 1098.1L390.3 1093.9L390.7 1089.7M392.5 1064.3L392.8 1060.1L393.2 1055.9L393.5 1051.7M395.6 1026.1L395.9 1022.0L396.1 1018.0L396.4 1013.9M397.5 989.3L397.8 985.1L398.2 980.9L398.7 976.7M402.9 949.2L403.6 945.1L404.4 940.9L405.1 936.8M410.9 908.5L411.6 906.2L412.4 903.9L413.5 901.6M424.2 897.1L428.3 897.8L431.2 900.7L433.0 904.5M438.8 930.9L439.6 935.0L440.5 939.0L441.4 943.1M448.1 969.3L449.1 971.9L451.3 973.2L453.8 971.9M463.7 960.0L466.3 957.3L469.4 958.2L471.1 961.5M479.4 983.2L480.9 985.9L483.4 987.5L486.5 986.9M497.1 973.6L497.6 970.5L498.1 967.4L498.5 964.3M501.1 946.4L501.7 942.8L502.4 939.2L503.2 935.6M510.3 914.8L512.4 911.8L515.6 911.8L517.7 914.8M524.5 934.9L525.5 939.0L526.4 943.1L527.2 947.2M531.6 973.7L532.2 977.0L533.0 980.4L534.5 983.3M540.8 965.2L541.6 961.1L542.3 956.9L542.9 952.8M546.1 927.2L546.7 923.1L547.3 918.9L547.9 914.8M551.7 888.8L552.5 884.9L553.5 881.1L554.6 877.2M562.9 853.4L564.3 850.5L565.8 847.6L567.5 844.9M583.9 833.4L586.6 832.4L589.4 831.7L592.3 831.6M609.9 831.2L612.6 831.0L615.4 831.0L618.0 831.2M632.1 832.5L636.2 832.1L639.3 829.4L641.0 825.6M646.9 801.2L647.6 797.1L648.4 792.9L649.2 788.8M653.9 763.2L654.6 759.1L655.4 754.9L656.0 750.8M660.1 725.0L660.7 721.0L661.3 717.0L661.9 713.0M665.1 689.2L665.7 685.1L666.3 680.9L666.9 676.8M670.4 651.6L671.0 647.4L671.6 643.3L672.1 639.1M675.4 613.9L676.0 609.7L676.5 605.6L677.1 601.4M680.6 576.2L681.2 572.1L681.8 567.9L682.5 563.8M686.6 538.7L687.2 534.5L687.9 530.4L688.6 526.3M692.7 501.2L693.6 497.1L694.5 492.9L695.4 488.9M702.1 463.0L703.4 459.0L704.7 455.0L706.1 451.0M715.8 426.9L717.3 423.0L718.7 419.0L720.1 415.1M729.1 387.8L730.4 383.8L731.6 379.8L732.8 375.7M741.0 348.2L742.3 344.2L743.6 340.2L744.8 336.2M754.3 309.1L755.9 305.2L757.7 301.4L759.6 297.7M779.5 276.9L783.1 276.1L786.8 276.3L790.2 278.0M803.4 295.3L805.2 299.1L806.8 302.9L808.3 306.9M816.2 331.0L817.4 335.0L818.6 339.0L819.7 343.1M825.7 368.8L826.6 372.9L827.4 377.1L828.3 381.2M833.1 407.1L833.7 411.0L834.3 415.0L834.8 418.9M837.4 442.7L837.8 446.9L838.2 451.1L838.7 455.3M841.3 480.7L841.8 484.9L842.2 489.1L842.7 493.3M845.4 518.7L845.8 522.9L846.2 527.1L846.6 531.3M849.0 556.7L849.3 560.8L849.6 565.0L849.9 569.2M851.5 594.7L851.8 598.9L852.0 603.1L852.2 607.2M853.7 633.0L853.9 637.0L854.1 641.0L854.3 645.0M855.7 668.7L855.9 672.9L856.1 677.1L856.3 681.3M857.6 709.3L857.9 713.1L858.2 716.9L858.5 720.7M861.2 742.9L861.7 747.0L862.1 751.2L862.6 755.4M865.2 781.6L865.7 785.8L866.5 789.9L867.8 786.9M869.2 760.6L869.3 756.4L869.3 752.2L869.4 748.0M869.7 721.7L869.7 717.5L869.8 713.3L869.8 709.1M870.5 682.8L870.6 678.6L870.7 674.4L870.9 670.2M872.5 643.9L872.9 639.7L873.3 635.5L873.8 631.4M877.1 605.2L877.7 601.1L878.3 596.9L879.1 592.8M887.6 567.6L890.2 564.9L893.3 566.3L895.2 569.6M901.3 591.6L901.9 595.4L902.5 599.1L903.0 602.9M906.8 626.6L907.6 629.5L908.5 632.4L909.8 635.2M923.1 635.9L926.5 633.7L928.9 636.9L930.2 640.8M935.2 665.6L935.9 669.7L936.7 673.8L937.3 677.9M940.9 702.8L941.6 706.9L942.4 711.1L943.2 715.2M949.4 741.4L950.4 745.1L951.6 748.9L952.8 752.6M965.7 773.0L968.6 774.3L971.4 775.7L974.2 777.1M991.3 778.4L994.6 776.3L997.3 773.5L999.3 770.3M1008.2 749.1L1009.4 745.0L1010.5 741.0L1011.6 736.9M1017.6 711.1L1018.5 707.0L1019.5 703.0L1020.4 698.9M1026.4 673.1L1027.4 669.0L1028.6 665.0L1029.9 661.0M1038.9 636.4L1040.7 632.6L1043.6 629.6L1047.2 627.5M1081.3 627.9L1084.5 628.5L1087.5 629.6L1090.3 631.2M1105.2 642.7L1108.3 644.5L1111.8 645.2L1115.4 645.0M1133.7 635.6L1136.7 632.6L1139.2 629.3L1141.1 625.6M1155.3 598.7L1157.1 596.2L1158.9 593.8L1160.7 591.3M1172.2 579.3L1175.9 577.3L1180.1 577.2L1184.1 578.4M1216.0 595.0L1220.0 596.4L1224.1 597.4L1228.2 598.0M1257.9 595.3L1262.0 594.7L1266.2 594.1L1270.3 593.4M1300.5 589.6L1304.3 590.2L1307.6 592.0L1310.5 594.5M1325.5 612.1L1327.2 615.3L1328.7 618.7L1330.0 622.2M1336.4 642.9L1337.5 647.0L1338.5 651.0L1339.6 655.1M1345.7 682.8L1346.6 686.9L1347.4 691.1L1348.2 695.2M1353.0 721.4L1353.7 725.1L1354.3 728.9L1355.0 732.6M1359.0 754.8L1359.7 758.9L1360.3 763.1L1360.9 767.2M1364.3 792.7L1364.8 796.9L1365.2 801.1L1365.7 805.3M1368.4 832.7L1368.8 836.9L1369.2 841.1L1369.6 845.3M1372.4 872.7L1372.8 876.9L1373.2 881.1L1373.6 885.3M1375.6 910.7L1375.9 914.9L1376.1 919.1L1376.4 923.3M1377.7 948.7L1377.9 952.9L1378.1 957.1L1378.3 961.3M1379.6 986.7L1379.9 990.9L1380.1 995.1L1380.4 999.3M1382.6 1026.0L1382.8 1029.3L1383.2 1032.7L1383.5 1036.0M1385.5 1054.6L1386.1 1058.8L1387.1 1062.8L1388.5 1059.5M1391.6 1029.3L1391.9 1025.1L1392.1 1020.9L1392.2 1016.7M1392.8 991.3L1392.9 987.1L1393.1 982.9L1393.4 978.7M1395.4 951.3L1395.8 947.1L1396.2 942.9L1396.6 938.7M1399.3 913.0L1399.8 909.0L1400.2 905.0L1400.7 901.0M1404.0 876.5L1404.7 872.8L1405.4 869.2L1406.1 865.6M1412.3 844.1L1413.6 840.6L1415.0 837.1L1416.5 833.8M1431.9 818.0L1435.2 816.3L1438.6 814.9L1442.1 813.8M1463.8 817.9L1466.6 819.9L1469.3 822.1L1471.9 824.4M1484.7 839.7L1487.0 843.2L1489.0 846.9L1490.8 850.7M1499.4 877.1L1500.5 881.0L1501.5 885.0L1502.6 888.9M1508.7 913.1L1509.6 917.0L1510.4 921.0L1511.2 924.9M1515.0 948.8L1515.7 952.9L1516.3 957.1L1517.0 961.2M1521.1 988.8L1521.7 992.9L1522.3 997.1L1522.9 1001.2M1526.2 1026.7L1526.8 1030.9L1527.2 1035.1L1527.7 1039.3M1530.4 1064.9L1530.8 1069.0L1531.2 1073.0L1531.6 1077.1M1533.9 1101.8L1534.3 1106.0L1534.7 1110.2L1535.1 1114.3M1537.5 1140.7L1537.8 1144.9L1538.2 1149.1L1538.5 1153.3M1540.3 1178.6L1540.7 1182.8L1541.2 1187.0L1541.7 1191.1M1576.3 1198.8L1577.5 1194.8L1578.9 1190.8L1580.3 1186.8"/>
</g>
<rect x="1371" y="52.8" width="235.2" height="431.5" fill="#fff"/>
<path d="M1371 50V484.3H1608" fill="none" stroke="#000" stroke-width="4.2"/>
<rect x="1374" y="80.2" width="116.5" height="8.8" rx="3.5" fill="#FCBFFD"/>
<text class="b" x="1498.5" y="101.2" font-size="48.3">45°</text>
<rect x="1374" y="141.2" width="116.5" height="8.8" rx="3.5" fill="#8B5A5C"/>
<text class="b" x="1498.5" y="162.2" font-size="48.3">30°</text>
<rect x="1374" y="202.2" width="116.5" height="8.8" rx="3.5" fill="#7A75A8"/>
<text class="b" x="1498.5" y="223.2" font-size="48.3">15°</text>
<rect x="1374" y="263.2" width="116.5" height="8.8" rx="3.5" fill="#4B82B8"/>
<text class="b" x="1498.5" y="284.2" font-size="48.3">0°</text>
<rect x="1374" y="324.2" width="116.5" height="8.8" rx="3.5" fill="#666C46"/>
<text class="b" x="1498.5" y="345.2" font-size="48.3">−15°</text>
<rect x="1374" y="385.2" width="116.5" height="8.8" rx="3.5" fill="#E6507D"/>
<text class="b" x="1498.5" y="406.2" font-size="48.3">−30°</text>
<rect x="1374" y="446.1" width="116.5" height="8.8" rx="3.5" fill="#28785A"/>
<text class="b" x="1498.5" y="467.1" font-size="48.3">−45°</text>
<text class="b" x="177.5" y="67.0" font-size="60" text-anchor="end">30</text>
<text class="b" x="177.5" y="273.4" font-size="60" text-anchor="end">20</text>
<text class="b" x="177.5" y="479.7" font-size="60" text-anchor="end">10</text>
<text class="b" x="177.5" y="686.1" font-size="60" text-anchor="end">0</text>
<text class="b" x="177.5" y="892.5" font-size="60" text-anchor="end">−10</text>
<text class="b" x="177.5" y="1098.8" font-size="60" text-anchor="end">−20</text>
<text class="b" x="202.5" y="1254.3" font-size="60" text-anchor="middle">−90</text>
<text class="b" x="437.0" y="1254.3" font-size="60" text-anchor="middle">−60</text>
<text class="b" x="671.5" y="1254.3" font-size="60" text-anchor="middle">−30</text>
<text class="b" x="906.0" y="1254.3" font-size="60" text-anchor="middle">0</text>
<text class="b" x="1140.5" y="1254.3" font-size="60" text-anchor="middle">30</text>
<text class="b" x="1375.0" y="1254.3" font-size="60" text-anchor="middle">60</text>
<text class="b" x="1609.5" y="1254.3" font-size="60" text-anchor="middle">90</text>
<text class="b" x="914.8" y="1321" font-size="59.3" text-anchor="middle">θ (deg)</text>
<text class="b" transform="translate(78.4 508.2) rotate(-90)" font-size="59" text-anchor="middle">Gain (dBi)</text>
<path d="M210.8 113H318.1" stroke="#000" stroke-width="7.6" fill="none"/>
<text class="b" x="321.5" y="127.8" font-size="42.2">Simulated</text>
<path d="M579 116.3H680" stroke="#000" stroke-width="8.6" stroke-dasharray="22 16.2" fill="none"/>
<text class="b" x="703.5" y="127.2" font-size="46">Measured</text>
<text x="636.5" y="1422.8" font-size="80" textLength="403" lengthAdjust="spacing">(<tspan class="b">b</tspan>) H-plane</text>
</svg>
</body></html>
